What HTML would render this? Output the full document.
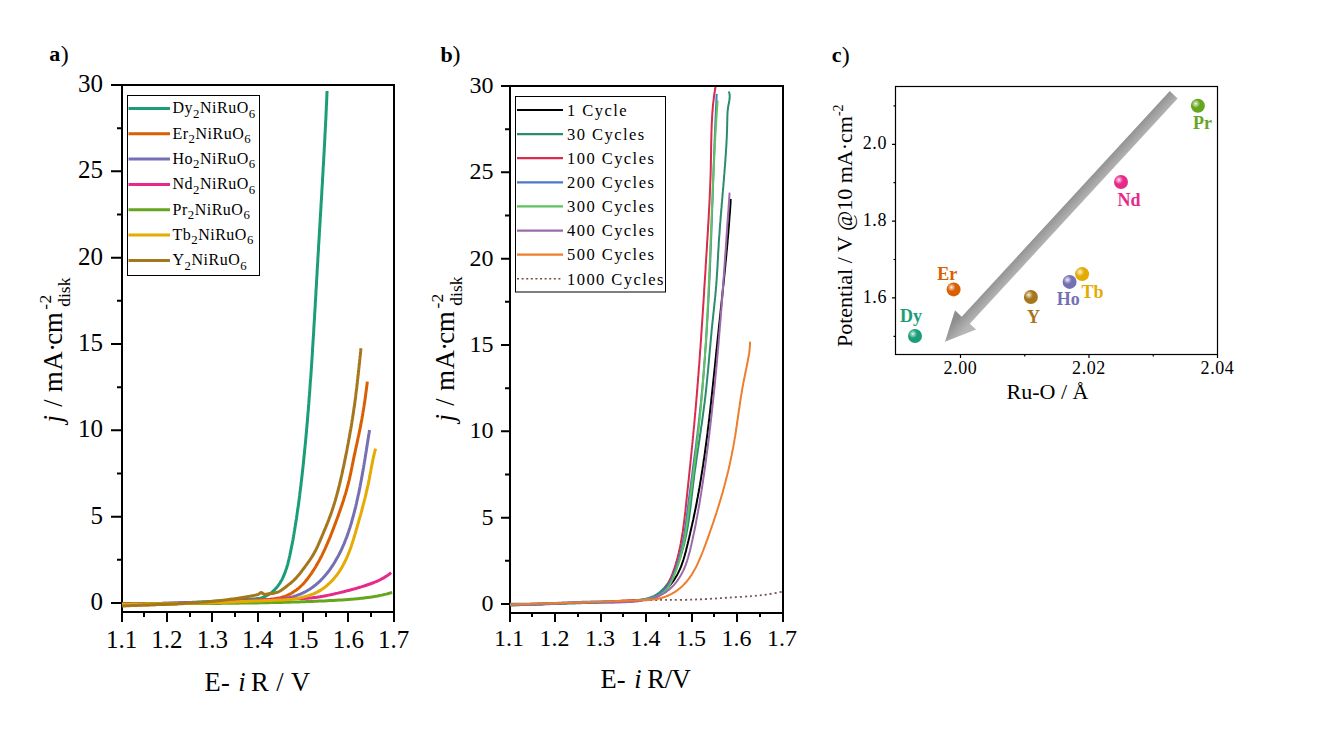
<!DOCTYPE html>
<html><head><meta charset="utf-8"><title>Figure</title>
<style>
html,body{margin:0;padding:0;background:#fff;}
body{width:1329px;height:735px;overflow:hidden;}
svg{display:block;}
text{font-family:"Liberation Serif", serif;}
</style></head>
<body>
<svg width="1329" height="735" viewBox="0 0 1329 735">
<rect width="1329" height="735" fill="#fff"/>
<text x="49.21" y="60.9" font-family="'Liberation Serif', serif" font-size="22" font-weight="bold" fill="#000">a</text>
<text x="60.74" y="61.6" font-family="'Liberation Serif', serif" font-size="24" fill="#000">)</text>
<text x="440.39" y="61.7" font-family="'Liberation Serif', serif" font-size="22" font-weight="bold" fill="#000">b</text>
<text x="452.54" y="62.3" font-family="'Liberation Serif', serif" font-size="24" fill="#000">)</text>
<text x="831.82" y="61.9" font-family="'Liberation Serif', serif" font-size="22" font-weight="bold" fill="#000">c</text>
<text x="841.74" y="62.5" font-family="'Liberation Serif', serif" font-size="24" fill="#000">)</text>
<rect x="122" y="85" width="272" height="527" fill="none" stroke="#000" stroke-width="2"/>
<path d="M111,603H121M111,516.66H121M111,430.33H121M111,344H121M111,257.66H121M111,171.32H121M111,84.99H121M117,559.83H121M117,473.5H121M117,387.16H121M117,300.83H121M117,214.49H121M117,128.16H121M122,613V622M167,613V622M212,613V622M258,613V622M303,613V622M348,613V622M394,613V622M144,613V617M190,613V617M235,613V617M280,613V617M326,613V617M371,613V617" stroke="#000" stroke-width="2" fill="none"/>
<text x="103" y="610" text-anchor="end" font-family="'Liberation Serif', serif" font-size="25">0</text>
<text x="103" y="523.66" text-anchor="end" font-family="'Liberation Serif', serif" font-size="25">5</text>
<text x="103" y="437.33" text-anchor="end" font-family="'Liberation Serif', serif" font-size="25">10</text>
<text x="103" y="351" text-anchor="end" font-family="'Liberation Serif', serif" font-size="25">15</text>
<text x="103" y="264.66" text-anchor="end" font-family="'Liberation Serif', serif" font-size="25">20</text>
<text x="103" y="178.32" text-anchor="end" font-family="'Liberation Serif', serif" font-size="25">25</text>
<text x="103" y="91.99" text-anchor="end" font-family="'Liberation Serif', serif" font-size="25">30</text>
<text x="121.6" y="648" text-anchor="middle" font-family="'Liberation Serif', serif" font-size="25">1.1</text>
<text x="166.93" y="648" text-anchor="middle" font-family="'Liberation Serif', serif" font-size="25">1.2</text>
<text x="212.26" y="648" text-anchor="middle" font-family="'Liberation Serif', serif" font-size="25">1.3</text>
<text x="257.59" y="648" text-anchor="middle" font-family="'Liberation Serif', serif" font-size="25">1.4</text>
<text x="302.92" y="648" text-anchor="middle" font-family="'Liberation Serif', serif" font-size="25">1.5</text>
<text x="348.25" y="648" text-anchor="middle" font-family="'Liberation Serif', serif" font-size="25">1.6</text>
<text x="393.58" y="648" text-anchor="middle" font-family="'Liberation Serif', serif" font-size="25">1.7</text>
<path d="M122.0,604.5 123.5,604.5 125.0,604.4 126.5,604.4 128.0,604.3 129.5,604.3 131.0,604.3 132.5,604.2 134.0,604.2 135.5,604.1 137.0,604.1 138.5,604.1 140.1,604.0 141.6,604.0 143.1,603.9 144.6,603.9 146.1,603.9 147.6,603.8 149.1,603.8 150.6,603.7 152.1,603.7 153.6,603.7 155.1,603.6 156.6,603.6 158.1,603.5 159.6,603.5 161.1,603.4 162.7,603.4 164.2,603.3 165.7,603.3 167.2,603.2 168.7,603.2 170.2,603.1 171.7,603.1 173.2,603.0 174.7,603.0 176.2,602.9 177.7,602.9 179.2,602.8 180.7,602.8 182.2,602.7 183.8,602.7 185.3,602.6 186.8,602.5 188.3,602.5 189.8,602.4 191.3,602.4 192.8,602.3 194.3,602.2 195.8,602.2 197.3,602.1 198.8,602.0 200.3,602.0 201.8,601.9 203.3,601.8 204.8,601.7 206.3,601.7 207.8,601.6 209.3,601.5 210.8,601.4 212.3,601.4 213.8,601.3 215.3,601.2 216.8,601.1 218.3,601.0 219.8,601.0 221.3,600.9 222.8,600.8 224.3,600.7 225.8,600.6 227.3,600.5 228.8,600.4 230.3,600.4 231.8,600.3 233.3,600.2 234.8,600.1 236.3,600.0 237.8,599.9 239.4,599.8 240.9,599.8 242.4,599.7 243.9,599.6 245.4,599.5 246.9,599.4 248.5,599.4 250.0,599.3 251.5,599.2 253.0,599.1 254.5,599.0 256.0,598.8 257.5,598.6 259.0,598.4 260.5,598.1 261.9,597.7 263.3,597.2 264.7,596.7 266.1,596.0 267.4,595.3 268.7,594.6 269.9,593.7 271.1,592.9 272.3,591.9 273.4,590.9 274.5,589.9 275.5,588.8 276.5,587.7 277.4,586.6 278.3,585.4 279.2,584.2 280.0,583.0 280.7,581.7 281.5,580.5 282.2,579.1 282.8,577.8 283.4,576.5 284.0,575.1 284.6,573.7 285.1,572.3 285.6,570.9 286.1,569.4 286.6,568.0 287.0,566.5 287.5,565.0 287.9,563.6 288.2,562.1 288.6,560.6 289.0,559.1 289.3,557.6 289.7,556.1 290.0,554.6 290.3,553.1 290.6,551.6 290.9,550.1 291.2,548.6 291.5,547.1 291.8,545.7 292.1,544.2 292.4,542.7 292.7,541.2 293.0,539.7 293.2,538.2 293.5,536.8 293.7,535.3 294.0,533.8 294.2,532.3 294.5,530.8 294.7,529.4 295.0,527.9 295.2,526.4 295.4,524.9 295.7,523.4 295.9,522.0 296.1,520.5 296.4,519.0 296.6,517.5 296.8,516.0 297.0,514.6 297.2,513.1 297.4,511.6 297.6,510.1 297.9,508.6 298.1,507.1 298.3,505.7 298.5,504.2 298.7,502.7 298.9,501.2 299.1,499.7 299.3,498.2 299.5,496.7 299.7,495.2 299.8,493.7 300.0,492.2 300.2,490.8 300.4,489.3 300.6,487.8 300.8,486.3 301.0,484.8 301.1,483.3 301.3,481.8 301.5,480.3 301.7,478.8 301.8,477.3 302.0,475.8 302.2,474.3 302.3,472.8 302.5,471.3 302.7,469.8 302.8,468.3 303.0,466.8 303.2,465.3 303.3,463.8 303.5,462.3 303.6,460.8 303.8,459.3 303.9,457.8 304.1,456.3 304.2,454.8 304.4,453.3 304.5,451.8 304.7,450.3 304.8,448.8 305.0,447.3 305.1,445.8 305.3,444.3 305.4,442.8 305.6,441.3 305.7,439.8 305.8,438.3 306.0,436.8 306.1,435.3 306.2,433.8 306.4,432.3 306.5,430.8 306.6,429.3 306.8,427.8 306.9,426.3 307.0,424.8 307.2,423.3 307.3,421.8 307.4,420.3 307.5,418.8 307.7,417.3 307.8,415.8 307.9,414.3 308.0,412.8 308.2,411.3 308.3,409.8 308.4,408.3 308.5,406.8 308.6,405.2 308.8,403.7 308.9,402.2 309.0,400.7 309.1,399.2 309.2,397.7 309.3,396.2 309.5,394.7 309.6,393.2 309.7,391.7 309.8,390.2 309.9,388.7 310.0,387.2 310.1,385.7 310.2,384.2 310.3,382.7 310.4,381.2 310.5,379.7 310.7,378.2 310.8,376.7 310.9,375.2 311.0,373.7 311.1,372.2 311.2,370.7 311.3,369.2 311.4,367.7 311.5,366.2 311.6,364.7 311.7,363.2 311.8,361.7 311.9,360.2 312.0,358.7 312.1,357.2 312.2,355.7 312.3,354.2 312.4,352.7 312.5,351.2 312.5,349.7 312.6,348.2 312.7,346.6 312.8,345.1 312.9,343.6 313.0,342.1 313.1,340.6 313.2,339.1 313.3,337.6 313.4,336.1 313.5,334.6 313.6,333.1 313.7,331.6 313.8,330.1 313.8,328.6 313.9,327.1 314.0,325.6 314.1,324.1 314.2,322.6 314.3,321.1 314.4,319.6 314.5,318.1 314.6,316.6 314.6,315.1 314.7,313.6 314.8,312.1 314.9,310.6 315.0,309.1 315.1,307.6 315.2,306.1 315.3,304.6 315.3,303.1 315.4,301.6 315.5,300.1 315.6,298.6 315.7,297.0 315.8,295.5 315.9,294.0 315.9,292.5 316.0,291.0 316.1,289.5 316.2,288.0 316.3,286.5 316.4,285.0 316.5,283.5 316.5,282.0 316.6,280.5 316.7,279.0 316.8,277.5 316.9,276.0 317.0,274.5 317.1,273.0 317.1,271.5 317.2,270.0 317.3,268.5 317.4,267.0 317.5,265.5 317.6,264.0 317.7,262.5 317.8,261.0 317.8,259.5 317.9,258.0 318.0,256.5 318.1,254.9 318.2,253.4 318.3,251.9 318.4,250.4 318.5,248.9 318.5,247.4 318.6,245.9 318.7,244.4 318.8,242.9 318.9,241.4 319.0,239.9 319.1,238.4 319.2,236.9 319.3,235.4 319.3,233.9 319.4,232.4 319.5,230.9 319.6,229.4 319.7,227.9 319.8,226.4 319.9,224.9 320.0,223.4 320.1,221.9 320.2,220.4 320.2,218.9 320.3,217.4 320.4,215.8 320.5,214.3 320.6,212.8 320.7,211.3 320.8,209.8 320.9,208.3 321.0,206.8 321.0,205.3 321.1,203.8 321.2,202.3 321.3,200.8 321.4,199.3 321.5,197.8 321.6,196.3 321.7,194.8 321.8,193.3 321.8,191.8 321.9,190.3 322.0,188.8 322.1,187.3 322.2,185.8 322.3,184.3 322.4,182.8 322.5,181.3 322.5,179.7 322.6,178.2 322.7,176.7 322.8,175.2 322.9,173.7 323.0,172.2 323.1,170.7 323.1,169.2 323.2,167.7 323.3,166.2 323.4,164.7 323.5,163.2 323.6,161.7 323.7,160.2 323.7,158.7 323.8,157.2 323.9,155.7 324.0,154.2 324.1,152.7 324.2,151.2 324.2,149.7 324.3,148.2 324.4,146.7 324.5,145.2 324.6,143.6 324.6,142.1 324.7,140.6 324.8,139.1 324.9,137.6 324.9,136.1 325.0,134.6 325.1,133.1 325.2,131.6 325.3,130.1 325.3,128.6 325.4,127.1 325.5,125.6 325.6,124.1 325.6,122.6 325.7,121.1 325.8,119.6 325.9,118.1 325.9,116.6 326.0,115.1 326.1,113.6 326.1,112.1 326.2,110.6 326.3,109.1 326.3,107.5 326.4,106.0 326.5,104.5 326.6,103.0 326.6,101.5 326.7,100.0 326.8,98.5 326.8,97.0 326.9,95.5 326.9,94.0 327.0,92.5 327.1,91.0" stroke="#1b9e77" stroke-width="3" fill="none" stroke-linejoin="round" stroke-linecap="butt"/>
<path d="M122.0,605.4 123.5,605.4 125.0,605.4 126.5,605.3 128.0,605.3 129.6,605.3 131.1,605.3 132.6,605.2 134.1,605.2 135.6,605.2 137.1,605.1 138.6,605.1 140.1,605.1 141.6,605.0 143.1,605.0 144.7,605.0 146.2,604.9 147.7,604.9 149.2,604.8 150.7,604.8 152.2,604.8 153.7,604.7 155.2,604.7 156.7,604.6 158.2,604.6 159.8,604.5 161.3,604.5 162.8,604.4 164.3,604.4 165.8,604.3 167.3,604.3 168.8,604.2 170.3,604.1 171.8,604.1 173.4,604.0 174.9,604.0 176.4,603.9 177.9,603.8 179.4,603.8 180.9,603.7 182.4,603.7 183.9,603.6 185.4,603.5 186.9,603.5 188.5,603.4 190.0,603.3 191.5,603.3 193.0,603.2 194.5,603.1 196.0,603.1 197.5,603.0 199.0,602.9 200.5,602.9 202.0,602.8 203.5,602.7 205.1,602.7 206.6,602.6 208.1,602.5 209.6,602.4 211.1,602.4 212.6,602.3 214.1,602.2 215.6,602.2 217.1,602.1 218.6,602.0 220.1,601.9 221.6,601.9 223.2,601.8 224.7,601.7 226.2,601.7 227.7,601.6 229.2,601.5 230.7,601.4 232.2,601.4 233.7,601.3 235.2,601.2 236.7,601.1 238.2,601.1 239.7,601.0 241.2,600.9 242.7,600.9 244.2,600.8 245.7,600.7 247.3,600.6 248.8,600.6 250.3,600.5 251.8,600.4 253.3,600.3 254.8,600.2 256.3,600.2 257.9,600.1 259.4,600.0 260.9,599.9 262.4,599.8 264.0,599.7 265.5,599.6 267.0,599.5 268.5,599.4 270.1,599.3 271.6,599.1 273.1,598.9 274.6,598.7 276.1,598.5 277.5,598.2 279.0,597.9 280.5,597.6 281.9,597.2 283.3,596.8 284.7,596.3 286.1,595.8 287.5,595.2 288.8,594.6 290.2,593.9 291.5,593.2 292.8,592.4 294.0,591.6 295.2,590.8 296.5,589.9 297.6,589.0 298.8,588.1 299.9,587.1 301.0,586.0 302.1,585.0 303.2,583.9 304.2,582.8 305.2,581.6 306.1,580.5 307.1,579.3 308.0,578.1 308.9,576.8 309.8,575.6 310.7,574.4 311.6,573.1 312.4,571.8 313.2,570.6 314.1,569.3 314.9,568.0 315.7,566.7 316.4,565.4 317.2,564.1 317.9,562.8 318.7,561.5 319.4,560.2 320.1,558.8 320.8,557.5 321.5,556.2 322.2,554.8 322.8,553.4 323.5,552.1 324.1,550.7 324.8,549.4 325.4,548.0 326.0,546.6 326.6,545.2 327.2,543.8 327.8,542.5 328.4,541.1 329.0,539.7 329.6,538.3 330.2,536.9 330.7,535.5 331.3,534.1 331.8,532.6 332.4,531.2 332.9,529.8 333.5,528.4 334.0,527.0 334.5,525.6 335.1,524.2 335.6,522.8 336.1,521.3 336.6,519.9 337.2,518.5 337.7,517.1 338.2,515.7 338.7,514.2 339.2,512.8 339.7,511.4 340.2,510.0 340.7,508.5 341.2,507.1 341.7,505.7 342.2,504.3 342.6,502.8 343.1,501.4 343.6,500.0 344.0,498.5 344.5,497.1 344.9,495.6 345.4,494.2 345.8,492.8 346.2,491.3 346.6,489.9 347.0,488.4 347.4,486.9 347.8,485.5 348.2,484.0 348.5,482.6 348.9,481.1 349.3,479.6 349.6,478.2 349.9,476.7 350.3,475.2 350.6,473.7 350.9,472.3 351.2,470.8 351.5,469.3 351.8,467.8 352.1,466.3 352.4,464.8 352.7,463.4 353.0,461.9 353.3,460.4 353.6,458.9 353.9,457.4 354.2,455.9 354.5,454.5 354.9,453.0 355.2,451.5 355.5,450.0 355.8,448.5 356.1,447.1 356.4,445.6 356.8,444.1 357.1,442.6 357.4,441.2 357.7,439.7 358.0,438.2 358.3,436.7 358.7,435.3 359.0,433.8 359.3,432.3 359.6,430.8 359.9,429.3 360.2,427.9 360.5,426.4 360.8,424.9 361.0,423.4 361.3,421.9 361.6,420.5 361.9,419.0 362.1,417.5 362.4,416.0 362.6,414.5 362.9,413.0 363.1,411.5 363.4,410.0 363.6,408.5 363.9,407.0 364.1,405.6 364.3,404.1 364.6,402.6 364.8,401.1 365.0,399.6 365.2,398.1 365.4,396.6 365.6,395.1 365.8,393.6 366.0,392.1 366.2,390.6 366.4,389.1 366.6,387.6 366.8,386.1 367.0,384.6 367.2,383.1 367.3,381.6" stroke="#d95f02" stroke-width="3" fill="none" stroke-linejoin="round" stroke-linecap="butt"/>
<path d="M122.0,603.9 123.5,603.9 125.0,603.9 126.5,603.9 128.0,603.9 129.5,603.9 131.0,603.9 132.5,603.9 134.1,603.9 135.6,603.9 137.1,603.9 138.6,603.8 140.1,603.8 141.6,603.8 143.1,603.8 144.6,603.8 146.1,603.8 147.6,603.8 149.1,603.8 150.6,603.7 152.1,603.7 153.6,603.7 155.1,603.7 156.6,603.7 158.2,603.6 159.7,603.6 161.2,603.6 162.7,603.6 164.2,603.5 165.7,603.5 167.2,603.5 168.7,603.5 170.2,603.4 171.7,603.4 173.2,603.4 174.7,603.3 176.2,603.3 177.7,603.3 179.2,603.3 180.7,603.2 182.2,603.2 183.7,603.2 185.3,603.1 186.8,603.1 188.3,603.1 189.8,603.0 191.3,603.0 192.8,603.0 194.3,602.9 195.8,602.9 197.3,602.9 198.8,602.8 200.3,602.8 201.8,602.8 203.3,602.7 204.8,602.7 206.3,602.7 207.8,602.6 209.3,602.6 210.8,602.6 212.4,602.5 213.9,602.5 215.4,602.5 216.9,602.4 218.4,602.4 219.9,602.4 221.4,602.3 222.9,602.3 224.4,602.3 225.9,602.2 227.4,602.2 228.9,602.2 230.4,602.2 231.9,602.1 233.4,602.1 235.0,602.1 236.5,602.0 238.0,602.0 239.5,602.0 241.0,602.0 242.5,601.9 244.0,601.9 245.5,601.8 247.0,601.8 248.5,601.8 250.0,601.7 251.5,601.6 253.0,601.6 254.5,601.5 256.0,601.5 257.5,601.4 259.0,601.3 260.5,601.2 262.1,601.1 263.6,601.0 265.1,600.9 266.6,600.8 268.1,600.6 269.6,600.5 271.1,600.4 272.5,600.2 274.0,600.0 275.5,599.9 277.0,599.7 278.5,599.5 280.0,599.3 281.5,599.0 283.0,598.8 284.5,598.6 286.0,598.3 287.5,598.0 288.9,597.7 290.4,597.3 291.9,597.0 293.3,596.6 294.7,596.1 296.2,595.7 297.6,595.2 299.0,594.6 300.4,594.1 301.8,593.5 303.1,592.9 304.5,592.2 305.8,591.5 307.1,590.8 308.4,590.0 309.7,589.3 310.9,588.4 312.1,587.6 313.3,586.7 314.5,585.8 315.7,584.9 316.8,583.9 318.0,582.9 319.1,581.9 320.2,580.9 321.2,579.8 322.3,578.7 323.3,577.6 324.3,576.5 325.3,575.3 326.3,574.2 327.2,573.0 328.2,571.8 329.1,570.6 330.0,569.4 330.8,568.1 331.7,566.9 332.5,565.6 333.4,564.3 334.2,563.0 335.0,561.7 335.7,560.4 336.5,559.1 337.2,557.8 338.0,556.5 338.7,555.1 339.4,553.8 340.0,552.5 340.7,551.1 341.4,549.8 342.0,548.4 342.6,547.0 343.2,545.6 343.8,544.3 344.4,542.9 344.9,541.5 345.5,540.1 346.0,538.7 346.6,537.3 347.1,535.9 347.6,534.5 348.1,533.1 348.6,531.6 349.0,530.2 349.5,528.8 350.0,527.4 350.4,525.9 350.9,524.5 351.3,523.1 351.7,521.6 352.1,520.2 352.5,518.7 352.9,517.3 353.3,515.8 353.7,514.4 354.1,512.9 354.5,511.5 354.8,510.0 355.2,508.5 355.6,507.1 355.9,505.6 356.3,504.1 356.6,502.7 356.9,501.2 357.3,499.7 357.6,498.3 357.9,496.8 358.2,495.3 358.6,493.9 358.9,492.4 359.2,490.9 359.5,489.4 359.8,487.9 360.1,486.5 360.3,485.0 360.6,483.5 360.9,482.0 361.2,480.5 361.5,479.1 361.7,477.6 362.0,476.1 362.3,474.6 362.5,473.1 362.8,471.6 363.1,470.1 363.3,468.7 363.6,467.2 363.8,465.7 364.1,464.2 364.3,462.7 364.6,461.2 364.8,459.7 365.1,458.2 365.3,456.8 365.5,455.3 365.8,453.8 366.0,452.3 366.3,450.8 366.5,449.3 366.7,447.8 367.0,446.4 367.2,444.9 367.4,443.4 367.7,441.9 367.9,440.4 368.1,438.9 368.4,437.4 368.6,436.0 368.8,434.5 369.1,433.0 369.3,431.5 369.5,430.0" stroke="#7570b3" stroke-width="3" fill="none" stroke-linejoin="round" stroke-linecap="butt"/>
<path d="M122.0,603.4 123.5,603.4 125.0,603.4 126.5,603.4 128.1,603.4 129.6,603.4 131.1,603.4 132.6,603.4 134.1,603.4 135.6,603.4 137.1,603.4 138.7,603.4 140.2,603.4 141.7,603.4 143.2,603.4 144.7,603.4 146.2,603.4 147.7,603.4 149.2,603.4 150.8,603.4 152.3,603.4 153.8,603.4 155.3,603.4 156.8,603.4 158.3,603.4 159.8,603.4 161.4,603.4 162.9,603.3 164.4,603.3 165.9,603.3 167.4,603.3 168.9,603.3 170.4,603.3 172.0,603.3 173.5,603.2 175.0,603.2 176.5,603.2 178.0,603.2 179.5,603.2 181.0,603.1 182.6,603.1 184.1,603.1 185.6,603.1 187.1,603.1 188.6,603.0 190.1,603.0 191.6,603.0 193.2,602.9 194.7,602.9 196.2,602.9 197.7,602.8 199.2,602.8 200.7,602.8 202.2,602.7 203.7,602.7 205.3,602.7 206.8,602.6 208.3,602.6 209.8,602.5 211.3,602.5 212.8,602.4 214.3,602.4 215.9,602.3 217.4,602.3 218.9,602.2 220.4,602.2 221.9,602.1 223.4,602.1 224.9,602.0 226.4,602.0 228.0,601.9 229.5,601.8 231.0,601.8 232.5,601.7 234.0,601.6 235.5,601.6 237.0,601.5 238.5,601.4 240.1,601.4 241.6,601.3 243.1,601.2 244.6,601.1 246.1,601.1 247.6,601.0 249.1,600.9 250.6,600.8 252.1,600.7 253.7,600.6 255.2,600.6 256.7,600.5 258.2,600.4 259.7,600.3 261.2,600.2 262.7,600.1 264.2,600.0 265.7,599.9 267.2,599.8 268.8,599.7 270.3,599.6 271.8,599.5 273.3,599.4 274.8,599.2 276.3,599.1 277.8,599.0 279.3,599.0 280.8,598.9 282.3,598.8 283.8,598.7 285.4,598.7 286.9,598.7 288.4,598.6 289.9,598.6 291.4,598.6 292.9,598.6 294.4,598.6 296.0,598.6 297.5,598.6 299.0,598.6 300.5,598.5 302.0,598.5 303.5,598.5 305.0,598.4 306.5,598.3 308.0,598.2 309.5,598.1 311.1,598.0 312.6,597.8 314.1,597.6 315.5,597.5 317.0,597.3 318.5,597.0 320.0,596.8 321.5,596.5 323.0,596.3 324.5,596.0 326.0,595.7 327.5,595.4 329.0,595.1 330.4,594.8 331.9,594.5 333.4,594.1 334.9,593.8 336.4,593.4 337.8,593.1 339.3,592.7 340.8,592.4 342.3,592.0 343.7,591.7 345.2,591.3 346.7,590.9 348.1,590.5 349.6,590.2 351.1,589.8 352.5,589.4 354.0,589.0 355.4,588.6 356.9,588.2 358.3,587.7 359.8,587.3 361.2,586.9 362.7,586.4 364.1,586.0 365.6,585.5 367.0,585.0 368.4,584.5 369.9,584.0 371.3,583.5 372.7,583.0 374.1,582.4 375.5,581.9 376.9,581.3 378.3,580.7 379.7,580.0 381.0,579.3 382.3,578.6 383.7,577.9 384.9,577.1 386.2,576.3 387.5,575.5 388.7,574.6 389.9,573.7 391.1,572.7" stroke="#e7298a" stroke-width="3" fill="none" stroke-linejoin="round" stroke-linecap="butt"/>
<path d="M122.0,604.0 123.5,604.0 125.0,604.0 126.5,604.0 128.1,604.0 129.6,604.0 131.1,603.9 132.6,603.9 134.1,603.9 135.6,603.9 137.1,603.9 138.6,603.9 140.2,603.9 141.7,603.9 143.2,603.9 144.7,603.8 146.2,603.8 147.7,603.8 149.2,603.8 150.8,603.8 152.3,603.8 153.8,603.8 155.3,603.8 156.8,603.8 158.3,603.8 159.8,603.7 161.4,603.7 162.9,603.7 164.4,603.7 165.9,603.7 167.4,603.7 168.9,603.7 170.4,603.7 172.0,603.7 173.5,603.7 175.0,603.7 176.5,603.7 178.0,603.6 179.5,603.6 181.0,603.6 182.5,603.6 184.1,603.6 185.6,603.6 187.1,603.6 188.6,603.6 190.1,603.6 191.6,603.6 193.1,603.6 194.7,603.5 196.2,603.5 197.7,603.5 199.2,603.5 200.7,603.5 202.2,603.5 203.7,603.5 205.2,603.5 206.8,603.5 208.3,603.5 209.8,603.4 211.3,603.4 212.8,603.4 214.3,603.4 215.8,603.4 217.4,603.4 218.9,603.4 220.4,603.4 221.9,603.3 223.4,603.3 224.9,603.3 226.4,603.3 227.9,603.3 229.5,603.3 231.0,603.2 232.5,603.2 234.0,603.2 235.5,603.2 237.0,603.2 238.5,603.2 240.1,603.1 241.6,603.1 243.1,603.1 244.6,603.1 246.1,603.1 247.6,603.0 249.1,603.0 250.6,603.0 252.2,603.0 253.7,602.9 255.2,602.9 256.7,602.9 258.2,602.9 259.7,602.8 261.2,602.8 262.8,602.8 264.3,602.8 265.8,602.7 267.3,602.7 268.8,602.7 270.3,602.6 271.8,602.6 273.3,602.6 274.9,602.5 276.4,602.5 277.9,602.5 279.4,602.4 280.9,602.4 282.4,602.4 283.9,602.3 285.5,602.3 287.0,602.2 288.5,602.2 290.0,602.2 291.5,602.1 293.0,602.1 294.5,602.0 296.0,602.0 297.6,601.9 299.1,601.9 300.6,601.8 302.1,601.8 303.6,601.7 305.1,601.7 306.6,601.6 308.2,601.6 309.7,601.5 311.2,601.5 312.7,601.4 314.2,601.3 315.7,601.3 317.2,601.2 318.7,601.1 320.3,601.1 321.8,601.0 323.3,600.9 324.8,600.9 326.3,600.8 327.8,600.7 329.3,600.6 330.8,600.6 332.3,600.5 333.9,600.4 335.4,600.3 336.9,600.2 338.4,600.1 339.9,600.0 341.4,599.9 342.9,599.9 344.4,599.8 345.9,599.7 347.4,599.5 349.0,599.4 350.5,599.3 352.0,599.2 353.5,599.1 355.0,598.9 356.5,598.8 358.0,598.7 359.5,598.5 361.0,598.3 362.5,598.2 364.0,598.0 365.5,597.8 367.0,597.6 368.5,597.4 370.0,597.2 371.5,597.0 373.0,596.7 374.5,596.5 376.0,596.2 377.4,596.0 378.9,595.7 380.4,595.4 381.9,595.1 383.4,594.7 384.8,594.4 386.3,594.1 387.8,593.7 389.3,593.3 390.7,592.9 392.2,592.5" stroke="#66a61e" stroke-width="3" fill="none" stroke-linejoin="round" stroke-linecap="butt"/>
<path d="M122.0,604.4 123.5,604.4 125.0,604.4 126.5,604.4 128.0,604.4 129.5,604.4 131.0,604.3 132.5,604.3 134.1,604.3 135.6,604.3 137.1,604.3 138.6,604.2 140.1,604.2 141.6,604.2 143.1,604.2 144.6,604.2 146.1,604.1 147.6,604.1 149.1,604.1 150.6,604.1 152.1,604.0 153.6,604.0 155.2,604.0 156.7,604.0 158.2,603.9 159.7,603.9 161.2,603.9 162.7,603.9 164.2,603.8 165.7,603.8 167.2,603.8 168.7,603.8 170.2,603.7 171.7,603.7 173.2,603.7 174.7,603.6 176.2,603.6 177.8,603.6 179.3,603.5 180.8,603.5 182.3,603.5 183.8,603.4 185.3,603.4 186.8,603.4 188.3,603.3 189.8,603.3 191.3,603.3 192.8,603.2 194.3,603.2 195.8,603.2 197.3,603.1 198.8,603.1 200.3,603.0 201.8,603.0 203.4,603.0 204.9,602.9 206.4,602.9 207.9,602.8 209.4,602.8 210.9,602.7 212.4,602.7 213.9,602.6 215.4,602.6 216.9,602.5 218.4,602.5 219.9,602.4 221.4,602.4 222.9,602.3 224.4,602.3 225.9,602.2 227.5,602.2 229.0,602.1 230.5,602.1 232.0,602.0 233.5,601.9 235.0,601.9 236.5,601.8 238.0,601.8 239.5,601.7 241.0,601.6 242.5,601.6 244.0,601.5 245.5,601.4 247.0,601.4 248.5,601.3 250.1,601.3 251.6,601.2 253.1,601.1 254.6,601.1 256.1,601.0 257.6,600.9 259.1,600.9 260.6,600.8 262.1,600.7 263.6,600.7 265.1,600.6 266.6,600.5 268.1,600.5 269.6,600.4 271.1,600.4 272.6,600.3 274.1,600.2 275.6,600.2 277.1,600.1 278.6,600.1 280.2,600.0 281.7,600.0 283.2,599.9 284.7,599.8 286.2,599.7 287.7,599.6 289.1,599.5 290.6,599.4 292.1,599.2 293.6,599.0 295.1,598.8 296.6,598.5 298.1,598.3 299.5,598.0 301.0,597.6 302.5,597.3 304.0,596.9 305.4,596.5 306.9,596.1 308.4,595.7 309.8,595.2 311.3,594.7 312.7,594.2 314.1,593.6 315.5,593.0 316.8,592.3 318.1,591.6 319.4,590.9 320.7,590.1 322.0,589.3 323.2,588.4 324.4,587.6 325.6,586.6 326.8,585.7 327.9,584.7 329.0,583.7 330.1,582.7 331.1,581.6 332.2,580.5 333.2,579.4 334.2,578.3 335.1,577.1 336.1,576.0 337.0,574.8 337.9,573.5 338.7,572.3 339.6,571.1 340.4,569.8 341.2,568.5 342.0,567.2 342.7,565.9 343.4,564.6 344.1,563.3 344.8,562.0 345.4,560.6 346.1,559.2 346.7,557.9 347.3,556.5 347.9,555.1 348.4,553.7 349.0,552.3 349.5,550.9 350.1,549.5 350.6,548.1 351.1,546.7 351.6,545.2 352.0,543.8 352.5,542.3 353.0,540.9 353.4,539.4 353.9,538.0 354.3,536.5 354.7,535.1 355.2,533.6 355.6,532.2 356.0,530.7 356.4,529.3 356.9,527.8 357.3,526.4 357.7,524.9 358.1,523.5 358.5,522.0 358.9,520.6 359.3,519.1 359.7,517.7 360.2,516.2 360.6,514.8 361.0,513.3 361.4,511.9 361.8,510.4 362.1,509.0 362.5,507.5 362.9,506.1 363.3,504.6 363.7,503.2 364.1,501.7 364.4,500.3 364.8,498.8 365.2,497.3 365.5,495.9 365.9,494.4 366.2,493.0 366.5,491.5 366.9,490.0 367.2,488.6 367.5,487.1 367.9,485.6 368.2,484.2 368.5,482.7 368.8,481.2 369.1,479.7 369.4,478.2 369.6,476.8 369.9,475.3 370.2,473.8 370.5,472.3 370.8,470.8 371.0,469.3 371.3,467.8 371.6,466.3 371.9,464.9 372.2,463.4 372.5,461.9 372.8,460.4 373.1,458.9 373.4,457.5 373.7,456.0 374.1,454.5 374.4,453.1 374.8,451.6 375.2,450.2 375.6,448.7" stroke="#e6ab02" stroke-width="3" fill="none" stroke-linejoin="round" stroke-linecap="butt"/>
<path d="M122.0,606.1 123.5,606.0 125.0,605.9 126.5,605.8 128.0,605.8 129.5,605.7 131.0,605.6 132.5,605.6 134.0,605.5 135.6,605.4 137.1,605.4 138.6,605.3 140.1,605.3 141.6,605.2 143.1,605.1 144.6,605.1 146.1,605.0 147.6,605.0 149.1,604.9 150.6,604.8 152.1,604.8 153.6,604.7 155.1,604.7 156.6,604.6 158.2,604.6 159.7,604.5 161.2,604.4 162.7,604.4 164.2,604.3 165.7,604.2 167.2,604.2 168.7,604.1 170.2,604.1 171.7,604.0 173.2,603.9 174.7,603.8 176.2,603.8 177.7,603.7 179.3,603.6 180.8,603.5 182.3,603.5 183.8,603.4 185.3,603.3 186.8,603.2 188.3,603.1 189.8,603.0 191.3,602.9 192.8,602.9 194.3,602.8 195.8,602.7 197.3,602.5 198.8,602.4 200.3,602.3 201.8,602.2 203.3,602.1 204.8,602.0 206.3,601.9 207.8,601.7 209.3,601.6 210.8,601.5 212.3,601.3 213.8,601.2 215.3,601.0 216.8,600.9 218.3,600.7 219.8,600.6 221.3,600.4 222.8,600.2 224.3,600.1 225.8,599.9 227.3,599.7 228.8,599.5 230.3,599.3 231.8,599.1 233.3,598.9 234.8,598.7 236.3,598.5 237.8,598.3 239.3,598.0 240.8,597.8 242.2,597.6 243.7,597.3 245.2,597.1 246.7,596.8 248.2,596.5 249.7,596.3 251.2,596.0 252.7,595.7 254.1,595.4 255.6,595.1 257.1,594.8 258.4,594.3 259.7,593.5 260.7,592.6 261.9,592.8 263.1,593.7 264.5,594.4 266.0,594.3 267.5,594.0 269.0,593.8 270.5,593.6 272.0,593.4 273.6,593.2 275.0,592.9 276.5,592.5 277.9,592.1 279.2,591.5 280.5,590.7 281.8,589.9 283.0,589.1 284.2,588.1 285.4,587.2 286.6,586.3 287.8,585.3 289.0,584.4 290.2,583.5 291.4,582.5 292.5,581.5 293.6,580.5 294.7,579.4 295.7,578.4 296.7,577.3 297.7,576.1 298.7,575.0 299.7,573.8 300.6,572.6 301.5,571.5 302.4,570.2 303.3,569.0 304.2,567.8 305.1,566.6 306.0,565.4 306.9,564.1 307.8,562.9 308.7,561.7 309.5,560.5 310.4,559.2 311.2,558.0 312.0,556.7 312.8,555.4 313.6,554.1 314.3,552.8 315.0,551.5 315.7,550.2 316.4,548.8 317.0,547.5 317.7,546.1 318.3,544.7 318.9,543.3 319.5,542.0 320.1,540.6 320.7,539.2 321.3,537.8 321.9,536.4 322.5,535.0 323.1,533.6 323.7,532.2 324.2,530.8 324.8,529.4 325.4,528.1 326.0,526.7 326.5,525.3 327.1,523.9 327.7,522.5 328.2,521.1 328.8,519.6 329.3,518.2 329.8,516.8 330.4,515.4 330.9,514.0 331.4,512.6 331.9,511.2 332.3,509.7 332.8,508.3 333.3,506.9 333.7,505.4 334.2,504.0 334.6,502.6 335.1,501.1 335.5,499.7 335.9,498.2 336.3,496.8 336.7,495.3 337.1,493.9 337.5,492.4 337.9,491.0 338.3,489.5 338.6,488.0 339.0,486.6 339.4,485.1 339.7,483.6 340.1,482.2 340.4,480.7 340.8,479.2 341.1,477.8 341.4,476.3 341.8,474.8 342.1,473.4 342.4,471.9 342.7,470.4 343.0,468.9 343.4,467.5 343.7,466.0 344.0,464.5 344.3,463.0 344.6,461.5 344.9,460.1 345.2,458.6 345.5,457.1 345.8,455.6 346.1,454.1 346.4,452.7 346.7,451.2 347.0,449.7 347.2,448.2 347.5,446.7 347.8,445.3 348.1,443.8 348.4,442.3 348.6,440.8 348.9,439.3 349.2,437.9 349.5,436.4 349.7,434.9 350.0,433.4 350.2,431.9 350.5,430.4 350.8,429.0 351.0,427.5 351.3,426.0 351.5,424.5 351.8,423.0 352.0,421.5 352.2,420.0 352.5,418.5 352.7,417.1 352.9,415.6 353.2,414.1 353.4,412.6 353.6,411.1 353.8,409.6 354.0,408.1 354.3,406.6 354.5,405.1 354.7,403.6 354.9,402.1 355.1,400.6 355.3,399.2 355.5,397.7 355.7,396.2 355.8,394.7 356.0,393.2 356.2,391.7 356.4,390.2 356.6,388.7 356.8,387.2 356.9,385.7 357.1,384.2 357.3,382.7 357.4,381.2 357.6,379.7 357.8,378.2 357.9,376.7 358.1,375.2 358.3,373.7 358.4,372.2 358.6,370.7 358.8,369.2 358.9,367.7 359.1,366.2 359.2,364.7 359.4,363.2 359.6,361.7 359.7,360.2 359.9,358.7 360.0,357.2 360.2,355.7 360.4,354.2 360.5,352.7 360.7,351.2 360.8,349.7 361.0,348.2" stroke="#a6761d" stroke-width="3" fill="none" stroke-linejoin="round" stroke-linecap="butt"/>
<rect x="127.5" y="95.5" width="132" height="180" fill="#fff" stroke="#000" stroke-width="1"/>
<path d="M128.5,108.4H170" stroke="#1b9e77" stroke-width="3"/>
<text x="172.5" y="113.2" font-family="'Liberation Serif', serif" font-size="16" letter-spacing="0.5">Dy<tspan font-size="12.8" dy="4.6">2</tspan><tspan dy="-4.6">NiRuO</tspan><tspan font-size="12.8" dy="4.6">6</tspan></text>
<path d="M128.5,133.73H170" stroke="#d95f02" stroke-width="3"/>
<text x="172.5" y="138.53" font-family="'Liberation Serif', serif" font-size="16" letter-spacing="0.5">Er<tspan font-size="12.8" dy="4.6">2</tspan><tspan dy="-4.6">NiRuO</tspan><tspan font-size="12.8" dy="4.6">6</tspan></text>
<path d="M128.5,159.06H170" stroke="#7570b3" stroke-width="3"/>
<text x="172.5" y="163.86" font-family="'Liberation Serif', serif" font-size="16" letter-spacing="0.5">Ho<tspan font-size="12.8" dy="4.6">2</tspan><tspan dy="-4.6">NiRuO</tspan><tspan font-size="12.8" dy="4.6">6</tspan></text>
<path d="M128.5,184.39H170" stroke="#e7298a" stroke-width="3"/>
<text x="172.5" y="189.19" font-family="'Liberation Serif', serif" font-size="16" letter-spacing="0.5">Nd<tspan font-size="12.8" dy="4.6">2</tspan><tspan dy="-4.6">NiRuO</tspan><tspan font-size="12.8" dy="4.6">6</tspan></text>
<path d="M128.5,209.72H170" stroke="#66a61e" stroke-width="3"/>
<text x="172.5" y="214.52" font-family="'Liberation Serif', serif" font-size="16" letter-spacing="0.5">Pr<tspan font-size="12.8" dy="4.6">2</tspan><tspan dy="-4.6">NiRuO</tspan><tspan font-size="12.8" dy="4.6">6</tspan></text>
<path d="M128.5,235.05H170" stroke="#e6ab02" stroke-width="3"/>
<text x="172.5" y="239.85" font-family="'Liberation Serif', serif" font-size="16" letter-spacing="0.5">Tb<tspan font-size="12.8" dy="4.6">2</tspan><tspan dy="-4.6">NiRuO</tspan><tspan font-size="12.8" dy="4.6">6</tspan></text>
<path d="M128.5,260.38H170" stroke="#a6761d" stroke-width="3"/>
<text x="172.5" y="265.18" font-family="'Liberation Serif', serif" font-size="16" letter-spacing="0.5">Y<tspan font-size="12.8" dy="4.6">2</tspan><tspan dy="-4.6">NiRuO</tspan><tspan font-size="12.8" dy="4.6">6</tspan></text>
<text x="204.58" y="691" font-family="'Liberation Serif', serif" font-size="26.5" fill="#000">E</text>
<text x="221.12" y="691" font-family="'Liberation Serif', serif" font-size="26.5" fill="#000">-</text>
<text x="238.28" y="691" font-family="'Liberation Serif', serif" font-size="26.5" font-style="italic" fill="#000">i</text>
<text x="250.9" y="691" font-family="'Liberation Serif', serif" font-size="26.5" fill="#000">R</text>
<text x="276.32" y="691" font-family="'Liberation Serif', serif" font-size="26.5" fill="#000">/</text>
<text x="290.93" y="691" font-family="'Liberation Serif', serif" font-size="26.5" fill="#000">V</text>
<text transform="rotate(-90)" x="-422.59" y="62" font-family="'Liberation Serif', serif" font-size="26.5" font-style="italic">j</text>
<text transform="rotate(-90)" x="-406.83" y="62" font-family="'Liberation Serif', serif" font-size="26.5">/</text>
<text transform="rotate(-90)" x="-391.93" y="62" font-family="'Liberation Serif', serif" font-size="26.5">m</text>
<text transform="rotate(-90)" x="-370.45" y="62" font-family="'Liberation Serif', serif" font-size="26.5">A</text>
<text transform="rotate(-90)" x="-351.86" y="62" font-family="'Liberation Serif', serif" font-size="26.5">·</text>
<text transform="rotate(-90)" x="-344.83" y="62" font-family="'Liberation Serif', serif" font-size="26.5">c</text>
<text transform="rotate(-90)" x="-333.03" y="62" font-family="'Liberation Serif', serif" font-size="26.5">m</text>
<text transform="rotate(-90)" x="-309.67" y="50.9" font-family="'Liberation Serif', serif" font-size="17.5">-</text>
<text transform="rotate(-90)" x="-303.58" y="50.9" font-family="'Liberation Serif', serif" font-size="17.5">2</text>
<text transform="rotate(-90)" x="-306.75" y="70" font-family="'Liberation Serif', serif" font-size="17.5">disk</text>
<rect x="510" y="86" width="273" height="527" fill="none" stroke="#000" stroke-width="2"/>
<path d="M501,604H509M501,517.66H509M501,431.33H509M501,345H509M501,258.66H509M501,172.32H509M501,85.99H509M505,560.83H509M505,474.5H509M505,388.16H509M505,301.83H509M505,215.49H509M505,129.16H509M510,614V622M555,614V622M601,614V622M646,614V622M692,614V622M737,614V622M783,614V622M532,614V617M578,614V617M623,614V617M669,614V617M714,614V617M760,614V617" stroke="#000" stroke-width="2" fill="none"/>
<text x="493.6" y="610.9" text-anchor="end" font-family="'Liberation Serif', serif" font-size="24">0</text>
<text x="493.6" y="524.56" text-anchor="end" font-family="'Liberation Serif', serif" font-size="24">5</text>
<text x="493.6" y="438.23" text-anchor="end" font-family="'Liberation Serif', serif" font-size="24">10</text>
<text x="493.6" y="351.89" text-anchor="end" font-family="'Liberation Serif', serif" font-size="24">15</text>
<text x="493.6" y="265.56" text-anchor="end" font-family="'Liberation Serif', serif" font-size="24">20</text>
<text x="493.6" y="179.22" text-anchor="end" font-family="'Liberation Serif', serif" font-size="24">25</text>
<text x="493.6" y="92.89" text-anchor="end" font-family="'Liberation Serif', serif" font-size="24">30</text>
<text x="508.9" y="646" text-anchor="middle" font-family="'Liberation Serif', serif" font-size="24">1.1</text>
<text x="554.4" y="646" text-anchor="middle" font-family="'Liberation Serif', serif" font-size="24">1.2</text>
<text x="599.9" y="646" text-anchor="middle" font-family="'Liberation Serif', serif" font-size="24">1.3</text>
<text x="645.4" y="646" text-anchor="middle" font-family="'Liberation Serif', serif" font-size="24">1.4</text>
<text x="690.9" y="646" text-anchor="middle" font-family="'Liberation Serif', serif" font-size="24">1.5</text>
<text x="736.4" y="646" text-anchor="middle" font-family="'Liberation Serif', serif" font-size="24">1.6</text>
<text x="781.9" y="646" text-anchor="middle" font-family="'Liberation Serif', serif" font-size="24">1.7</text>
<path d="M510,605C518.33,604.75 545,604 560,603.5C575,603 584.58,602.57 600,602C615.42,601.43 639.17,600.45 652.5,600.1C665.83,599.75 671.25,600.07 680,599.9C688.75,599.73 696.85,599.48 705,599.1C713.15,598.72 721.07,598.1 728.9,597.6C736.73,597.1 745.65,596.62 752,596.1C758.35,595.58 761.83,595.27 767,594.5C772.17,593.73 780.33,592 783,591.5" stroke="#7a5252" stroke-width="1.8" fill="none" stroke-dasharray="2 3"/>
<path d="M510.0,604.8 511.5,604.8 513.0,604.8 514.5,604.8 516.0,604.8 517.5,604.8 519.0,604.8 520.5,604.8 522.0,604.7 523.6,604.7 525.1,604.7 526.6,604.7 528.1,604.6 529.6,604.6 531.1,604.5 532.6,604.5 534.1,604.4 535.6,604.4 537.1,604.3 538.6,604.3 540.1,604.2 541.6,604.2 543.1,604.1 544.6,604.0 546.1,604.0 547.6,603.9 549.1,603.9 550.6,603.8 552.1,603.7 553.7,603.7 555.2,603.6 556.7,603.5 558.2,603.5 559.7,603.4 561.2,603.3 562.7,603.3 564.2,603.2 565.7,603.1 567.2,603.1 568.7,603.0 570.2,603.0 571.7,602.9 573.2,602.9 574.7,602.8 576.2,602.8 577.7,602.7 579.2,602.7 580.7,602.6 582.2,602.6 583.7,602.5 585.2,602.5 586.7,602.5 588.2,602.5 589.7,602.4 591.2,602.4 592.7,602.4 594.2,602.4 595.7,602.4 597.2,602.4 598.7,602.3 600.2,602.3 601.7,602.3 603.2,602.3 604.8,602.3 606.3,602.3 607.8,602.3 609.3,602.2 610.8,602.2 612.3,602.2 613.8,602.2 615.3,602.1 616.8,602.1 618.4,602.0 619.9,602.0 621.4,601.9 622.9,601.9 624.4,601.8 625.9,601.7 627.5,601.6 629.0,601.5 630.5,601.4 632.0,601.3 633.6,601.2 635.1,601.0 636.6,600.9 638.1,600.7 639.6,600.5 641.1,600.3 642.6,600.0 644.1,599.7 645.6,599.4 647.0,599.1 648.4,598.7 649.9,598.3 651.3,597.9 652.6,597.4 654.0,596.9 655.3,596.3 656.7,595.7 657.9,595.1 659.2,594.4 660.4,593.6 661.6,592.8 662.8,592.0 664.0,591.1 665.1,590.1 666.2,589.2 667.2,588.1 668.3,587.1 669.3,586.0 670.3,584.9 671.2,583.7 672.1,582.6 673.0,581.4 673.9,580.1 674.7,578.9 675.5,577.6 676.3,576.3 677.1,574.9 677.8,573.6 678.5,572.2 679.1,570.9 679.8,569.5 680.4,568.1 681.0,566.7 681.5,565.3 682.0,563.8 682.5,562.4 683.0,561.0 683.5,559.5 683.9,558.0 684.4,556.6 684.8,555.1 685.2,553.6 685.6,552.2 686.0,550.7 686.3,549.2 686.7,547.8 687.1,546.3 687.4,544.8 687.8,543.3 688.1,541.9 688.5,540.4 688.8,538.9 689.2,537.5 689.5,536.0 689.9,534.5 690.2,533.1 690.5,531.6 690.9,530.1 691.2,528.7 691.5,527.2 691.9,525.7 692.2,524.3 692.5,522.8 692.8,521.4 693.2,519.9 693.5,518.4 693.8,517.0 694.1,515.5 694.4,514.0 694.7,512.6 695.0,511.1 695.3,509.7 695.6,508.2 695.9,506.7 696.2,505.2 696.5,503.8 696.8,502.3 697.0,500.8 697.3,499.3 697.6,497.9 697.9,496.4 698.1,494.9 698.4,493.4 698.7,491.9 698.9,490.5 699.2,489.0 699.5,487.5 699.7,486.0 700.0,484.5 700.2,483.0 700.5,481.6 700.7,480.1 701.0,478.6 701.2,477.1 701.4,475.6 701.7,474.1 701.9,472.6 702.1,471.1 702.4,469.7 702.6,468.2 702.8,466.7 703.1,465.2 703.3,463.7 703.5,462.2 703.7,460.7 703.9,459.2 704.2,457.7 704.4,456.2 704.6,454.8 704.8,453.3 705.0,451.8 705.2,450.3 705.4,448.8 705.6,447.3 705.8,445.8 706.0,444.3 706.2,442.8 706.4,441.3 706.6,439.8 706.8,438.3 707.0,436.9 707.2,435.4 707.4,433.9 707.6,432.4 707.7,430.9 707.9,429.4 708.1,427.9 708.3,426.4 708.5,424.9 708.7,423.4 708.8,421.9 709.0,420.4 709.2,418.9 709.4,417.4 709.5,415.9 709.7,414.5 709.9,413.0 710.1,411.5 710.2,410.0 710.4,408.5 710.6,407.0 710.7,405.5 710.9,404.0 711.1,402.5 711.2,401.0 711.4,399.5 711.5,398.0 711.7,396.5 711.9,395.0 712.0,393.5 712.2,392.0 712.4,390.5 712.5,389.0 712.7,387.5 712.8,386.0 713.0,384.5 713.1,383.0 713.3,381.5 713.5,380.0 713.6,378.5 713.8,377.1 713.9,375.6 714.1,374.1 714.2,372.6 714.4,371.1 714.5,369.6 714.7,368.1 714.9,366.6 715.0,365.1 715.2,363.6 715.3,362.1 715.5,360.6 715.6,359.1 715.8,357.6 715.9,356.1 716.1,354.6 716.2,353.1 716.4,351.6 716.5,350.1 716.7,348.6 716.9,347.1 717.0,345.6 717.2,344.1 717.3,342.6 717.5,341.1 717.6,339.6 717.8,338.1 717.9,336.6 718.1,335.1 718.3,333.6 718.4,332.1 718.6,330.6 718.7,329.1 718.9,327.6 719.0,326.1 719.2,324.6 719.4,323.1 719.5,321.6 719.7,320.1 719.8,318.6 720.0,317.1 720.2,315.6 720.3,314.1 720.5,312.6 720.6,311.1 720.8,309.6 720.9,308.1 721.1,306.6 721.3,305.1 721.4,303.6 721.6,302.2 721.7,300.7 721.9,299.2 722.1,297.7 722.2,296.2 722.4,294.7 722.5,293.2 722.7,291.7 722.8,290.2 723.0,288.7 723.1,287.2 723.3,285.7 723.5,284.2 723.6,282.7 723.8,281.2 723.9,279.7 724.1,278.2 724.2,276.7 724.4,275.2 724.5,273.7 724.7,272.2 724.8,270.7 725.0,269.2 725.1,267.7 725.3,266.2 725.4,264.7 725.5,263.2 725.7,261.7 725.8,260.2 726.0,258.7 726.1,257.2 726.3,255.7 726.4,254.2 726.5,252.7 726.7,251.2 726.8,249.7 727.0,248.3 727.1,246.8 727.2,245.3 727.4,243.8 727.5,242.3 727.6,240.8 727.7,239.3 727.9,237.8 728.0,236.3 728.1,234.8 728.3,233.3 728.4,231.8 728.5,230.3 728.6,228.8 728.7,227.3 728.9,225.8 729.0,224.3 729.1,222.8 729.2,221.3 729.3,219.9 729.4,218.4 729.5,216.9 729.6,215.4 729.8,213.9 729.9,212.4 730.0,210.9 730.1,209.4 730.2,207.9 730.3,206.4 730.4,204.9 730.5,203.4 730.6,201.9 730.6,200.4 730.7,198.9" stroke="#000000" stroke-width="2" fill="none" stroke-linejoin="round"/>
<path d="M510.1,605.5 511.6,605.5 513.1,605.4 514.6,605.4 516.0,605.3 517.5,605.2 519.0,605.2 520.5,605.1 522.0,605.1 523.5,605.0 525.0,605.0 526.5,604.9 528.0,604.9 529.5,604.8 531.0,604.8 532.5,604.7 534.0,604.7 535.5,604.6 537.0,604.6 538.5,604.5 540.0,604.5 541.5,604.4 543.0,604.4 544.6,604.3 546.1,604.3 547.6,604.2 549.1,604.2 550.6,604.1 552.1,604.1 553.6,604.1 555.2,604.0 556.7,604.0 558.2,603.9 559.7,603.9 561.2,603.8 562.7,603.8 564.2,603.7 565.8,603.7 567.3,603.6 568.8,603.6 570.3,603.5 571.8,603.5 573.3,603.4 574.8,603.4 576.3,603.3 577.9,603.3 579.4,603.2 580.9,603.2 582.4,603.1 583.9,603.1 585.4,603.0 586.9,602.9 588.4,602.9 589.9,602.8 591.4,602.8 592.9,602.7 594.4,602.6 595.8,602.6 597.3,602.5 598.8,602.4 600.3,602.4 601.8,602.3 603.3,602.2 604.7,602.2 606.2,602.1 607.7,602.0 609.2,601.9 610.6,601.8 612.1,601.8 613.6,601.7 615.0,601.6 616.5,601.5 618.0,601.4 619.5,601.3 621.0,601.2 622.5,601.1 624.0,601.0 625.5,600.9 627.1,600.8 628.6,600.7 630.2,600.6 631.7,600.5 633.3,600.4 634.9,600.3 636.5,600.2 638.1,600.0 639.7,599.8 641.2,599.6 642.8,599.4 644.3,599.1 645.8,598.8 647.3,598.4 648.8,598.0 650.2,597.5 651.6,597.0 652.9,596.4 654.3,595.8 655.5,595.1 656.8,594.4 657.9,593.6 659.1,592.7 660.2,591.8 661.3,590.8 662.4,589.8 663.4,588.8 664.4,587.7 665.3,586.6 666.2,585.5 667.1,584.3 668.0,583.1 668.8,581.9 669.6,580.6 670.4,579.3 671.2,578.0 671.9,576.7 672.6,575.3 673.3,574.0 674.0,572.6 674.7,571.2 675.3,569.9 675.9,568.5 676.5,567.1 677.1,565.7 677.7,564.3 678.2,562.9 678.8,561.5 679.3,560.1 679.8,558.6 680.3,557.2 680.8,555.8 681.2,554.4 681.7,552.9 682.1,551.5 682.5,550.1 682.9,548.6 683.3,547.2 683.7,545.7 684.1,544.3 684.4,542.8 684.8,541.4 685.1,539.9 685.4,538.4 685.8,537.0 686.1,535.5 686.4,534.0 686.6,532.6 686.9,531.1 687.2,529.6 687.5,528.1 687.7,526.6 688.0,525.2 688.2,523.7 688.4,522.2 688.7,520.7 688.9,519.2 689.1,517.7 689.3,516.2 689.5,514.7 689.7,513.2 689.9,511.7 690.1,510.2 690.3,508.7 690.5,507.2 690.7,505.7 690.8,504.2 691.0,502.7 691.2,501.2 691.4,499.7 691.5,498.2 691.7,496.7 691.9,495.2 692.1,493.7 692.2,492.2 692.4,490.7 692.6,489.2 692.8,487.7 692.9,486.2 693.1,484.7 693.3,483.2 693.5,481.7 693.7,480.2 693.9,478.7 694.0,477.2 694.2,475.7 694.4,474.2 694.6,472.7 694.8,471.2 695.0,469.7 695.2,468.3 695.5,466.8 695.7,465.3 695.9,463.8 696.1,462.3 696.3,460.8 696.5,459.3 696.7,457.8 696.9,456.3 697.2,454.8 697.4,453.3 697.6,451.9 697.8,450.4 698.0,448.9 698.3,447.4 698.5,445.9 698.7,444.4 698.9,442.9 699.1,441.4 699.4,440.0 699.6,438.5 699.8,437.0 700.0,435.5 700.2,434.0 700.5,432.5 700.7,431.0 700.9,429.6 701.1,428.1 701.3,426.6 701.6,425.1 701.8,423.6 702.0,422.1 702.2,420.6 702.4,419.1 702.6,417.7 702.8,416.2 703.0,414.7 703.2,413.2 703.4,411.7 703.6,410.2 703.8,408.7 704.0,407.2 704.2,405.7 704.4,404.2 704.6,402.7 704.8,401.3 704.9,399.8 705.1,398.3 705.3,396.8 705.5,395.3 705.6,393.8 705.8,392.3 706.0,390.8 706.1,389.3 706.3,387.8 706.4,386.3 706.6,384.8 706.7,383.3 706.9,381.8 707.1,380.3 707.2,378.8 707.3,377.3 707.5,375.8 707.6,374.3 707.8,372.8 707.9,371.3 708.1,369.8 708.2,368.3 708.3,366.8 708.5,365.3 708.6,363.8 708.8,362.3 708.9,360.8 709.0,359.3 709.2,357.8 709.3,356.3 709.4,354.8 709.6,353.3 709.7,351.8 709.8,350.3 710.0,348.8 710.1,347.3 710.3,345.8 710.4,344.3 710.5,342.8 710.7,341.3 710.8,339.8 710.9,338.3 711.1,336.8 711.2,335.3 711.4,333.8 711.5,332.3 711.6,330.8 711.8,329.3 711.9,327.8 712.1,326.3 712.2,324.8 712.4,323.3 712.5,321.8 712.7,320.3 712.9,318.8 713.0,317.3 713.2,315.8 713.3,314.3 713.5,312.8 713.7,311.3 713.8,309.8 714.0,308.3 714.1,306.9 714.3,305.4 714.4,303.9 714.6,302.4 714.8,300.9 714.9,299.4 715.1,297.9 715.2,296.4 715.4,294.9 715.5,293.4 715.6,291.9 715.8,290.4 715.9,288.9 716.0,287.4 716.2,285.9 716.3,284.4 716.4,282.9 716.5,281.4 716.6,280.0 716.7,278.5 716.8,277.0 716.9,275.5 717.0,274.0 717.1,272.5 717.2,271.0 717.3,269.5 717.4,268.0 717.5,266.4 717.6,264.9 717.6,263.4 717.7,261.9 717.8,260.4 717.9,258.9 718.0,257.4 718.1,255.9 718.1,254.4 718.2,252.9 718.3,251.4 718.4,249.9 718.5,248.4 718.6,246.9 718.7,245.4 718.7,243.9 718.8,242.4 718.9,240.9 719.0,239.4 719.1,237.9 719.2,236.4 719.4,234.9 719.5,233.4 719.6,231.9 719.7,230.4 719.8,228.9 719.9,227.4 720.0,225.9 720.1,224.4 720.2,222.9 720.4,221.4 720.5,219.9 720.6,218.4 720.7,216.9 720.8,215.4 721.0,213.9 721.1,212.4 721.2,210.9 721.3,209.4 721.5,207.9 721.6,206.4 721.7,204.9 721.8,203.4 722.0,201.9 722.1,200.4 722.2,198.9 722.4,197.4 722.5,195.9 722.6,194.4 722.7,192.9 722.9,191.4 723.0,189.9 723.1,188.4 723.3,186.9 723.4,185.4 723.5,183.9 723.6,182.4 723.8,180.9 723.9,179.4 724.0,177.9 724.1,176.4 724.2,174.9 724.4,173.4 724.5,171.9 724.6,170.4 724.7,168.9 724.8,167.4 725.0,165.9 725.1,164.4 725.2,162.9 725.3,161.4 725.4,159.9 725.5,158.4 725.6,156.9 725.7,155.4 725.8,153.9 725.9,152.3 726.0,150.8 726.1,149.3 726.2,147.8 726.3,146.3 726.4,144.8 726.5,143.3 726.5,141.8 726.6,140.3 726.7,138.8 726.8,137.3 726.8,135.8 726.9,134.3 726.9,132.8 727.0,131.3 727.1,129.8 727.1,128.3 727.1,126.8 727.2,125.3 727.2,123.8 727.2,122.3 727.3,120.8 727.3,119.3 727.3,117.8 727.4,116.3 727.4,114.8 727.5,113.3 727.6,111.8 727.7,110.3 727.9,108.9 728.1,107.4 728.3,105.9 728.6,104.5 728.9,103.1 729.1,101.6 729.4,100.2 729.6,98.7 729.7,97.3 729.7,95.9 729.6,94.4 729.3,93.0 728.8,91.5" stroke="#2a8c6c" stroke-width="2" fill="none" stroke-linejoin="round"/>
<path d="M510.0,604.6 511.5,604.5 513.0,604.5 514.5,604.4 516.0,604.3 517.5,604.3 519.0,604.2 520.5,604.2 522.0,604.1 523.5,604.1 525.0,604.0 526.5,604.0 528.0,603.9 529.5,603.9 531.1,603.8 532.6,603.8 534.1,603.8 535.6,603.7 537.1,603.7 538.6,603.6 540.1,603.6 541.6,603.6 543.1,603.5 544.6,603.5 546.1,603.5 547.6,603.4 549.1,603.4 550.6,603.4 552.2,603.3 553.7,603.3 555.2,603.3 556.7,603.2 558.2,603.2 559.7,603.2 561.2,603.1 562.7,603.1 564.2,603.1 565.7,603.0 567.2,603.0 568.8,602.9 570.3,602.9 571.8,602.9 573.3,602.8 574.8,602.8 576.3,602.8 577.8,602.7 579.3,602.7 580.8,602.6 582.3,602.6 583.8,602.5 585.3,602.5 586.8,602.4 588.3,602.4 589.8,602.3 591.3,602.3 592.9,602.2 594.4,602.1 595.9,602.1 597.4,602.0 598.9,601.9 600.4,601.9 601.9,601.8 603.4,601.7 604.8,601.6 606.3,601.6 607.8,601.5 609.3,601.4 610.8,601.3 612.3,601.2 613.8,601.1 615.3,601.1 616.8,601.0 618.3,600.9 619.8,600.8 621.3,600.7 622.8,600.6 624.3,600.5 625.7,600.5 627.2,600.4 628.7,600.3 630.2,600.2 631.7,600.2 633.2,600.1 634.7,600.1 636.3,600.0 637.8,600.0 639.4,599.9 641.0,599.9 642.6,599.8 644.3,599.8 645.9,599.7 647.6,599.6 649.2,599.4 650.8,599.2 652.3,598.9 653.7,598.4 655.1,597.9 656.4,597.3 657.7,596.6 658.8,595.8 659.9,595.0 661.0,594.0 662.0,593.0 662.9,592.0 663.8,590.9 664.7,589.7 665.5,588.5 666.2,587.3 667.0,586.0 667.7,584.7 668.4,583.4 669.0,582.0 669.6,580.6 670.2,579.2 670.8,577.8 671.4,576.4 671.9,575.0 672.5,573.6 673.0,572.2 673.5,570.8 674.0,569.4 674.5,568.0 674.9,566.5 675.4,565.1 675.8,563.7 676.2,562.2 676.7,560.8 677.1,559.3 677.5,557.9 677.8,556.4 678.2,555.0 678.6,553.5 678.9,552.1 679.2,550.6 679.6,549.1 679.9,547.7 680.2,546.2 680.5,544.7 680.8,543.2 681.0,541.8 681.3,540.3 681.6,538.8 681.8,537.3 682.1,535.8 682.3,534.3 682.5,532.9 682.8,531.4 683.0,529.9 683.2,528.4 683.4,526.9 683.6,525.4 683.8,523.9 684.0,522.4 684.2,520.9 684.4,519.4 684.6,517.9 684.7,516.4 684.9,514.9 685.1,513.4 685.3,511.9 685.4,510.4 685.6,508.9 685.7,507.4 685.9,505.9 686.1,504.3 686.2,502.8 686.4,501.3 686.5,499.8 686.7,498.3 686.9,496.8 687.0,495.3 687.2,493.8 687.3,492.3 687.5,490.8 687.6,489.3 687.8,487.8 688.0,486.3 688.1,484.8 688.3,483.3 688.4,481.8 688.6,480.3 688.8,478.8 688.9,477.3 689.1,475.8 689.2,474.3 689.4,472.8 689.5,471.3 689.7,469.8 689.8,468.3 690.0,466.8 690.2,465.3 690.3,463.8 690.5,462.3 690.6,460.8 690.8,459.4 690.9,457.9 691.1,456.4 691.2,454.9 691.4,453.4 691.5,451.9 691.7,450.4 691.8,448.9 692.0,447.4 692.1,445.9 692.3,444.4 692.4,442.9 692.6,441.4 692.7,439.9 692.9,438.4 693.0,436.9 693.2,435.4 693.3,433.9 693.4,432.4 693.6,430.9 693.7,429.4 693.9,427.9 694.0,426.4 694.2,424.9 694.3,423.4 694.4,421.9 694.6,420.4 694.7,418.9 694.8,417.4 695.0,415.9 695.1,414.4 695.2,412.9 695.4,411.4 695.5,410.0 695.6,408.5 695.8,407.0 695.9,405.5 696.0,404.0 696.2,402.5 696.3,401.0 696.4,399.5 696.5,398.0 696.7,396.5 696.8,395.0 696.9,393.5 697.0,392.0 697.2,390.5 697.3,389.0 697.4,387.5 697.5,386.0 697.6,384.4 697.8,382.9 697.9,381.4 698.0,379.9 698.1,378.4 698.2,376.9 698.4,375.4 698.5,373.9 698.6,372.4 698.7,370.9 698.8,369.4 698.9,367.9 699.0,366.4 699.2,364.9 699.3,363.4 699.4,361.9 699.5,360.4 699.6,358.9 699.7,357.4 699.8,355.9 699.9,354.4 700.0,352.9 700.1,351.4 700.2,349.9 700.4,348.4 700.5,346.9 700.6,345.4 700.7,343.9 700.8,342.4 700.9,340.9 701.0,339.4 701.1,337.9 701.2,336.4 701.3,334.9 701.4,333.4 701.5,331.8 701.6,330.3 701.7,328.8 701.8,327.3 701.9,325.8 702.0,324.3 702.1,322.8 702.2,321.3 702.3,319.8 702.4,318.3 702.5,316.8 702.6,315.3 702.7,313.8 702.8,312.3 702.9,310.8 703.0,309.3 703.1,307.8 703.2,306.3 703.3,304.8 703.4,303.3 703.5,301.8 703.6,300.3 703.7,298.8 703.8,297.2 703.9,295.7 704.0,294.2 704.1,292.7 704.1,291.2 704.2,289.7 704.3,288.2 704.4,286.7 704.5,285.2 704.6,283.7 704.7,282.2 704.8,280.7 704.9,279.2 705.0,277.7 705.1,276.2 705.2,274.7 705.3,273.2 705.4,271.7 705.5,270.2 705.6,268.7 705.6,267.2 705.7,265.7 705.8,264.2 705.9,262.7 706.0,261.2 706.1,259.6 706.2,258.1 706.3,256.6 706.4,255.1 706.5,253.6 706.6,252.1 706.7,250.6 706.8,249.1 706.9,247.6 707.0,246.1 707.0,244.6 707.1,243.1 707.2,241.6 707.3,240.1 707.4,238.6 707.5,237.1 707.6,235.6 707.7,234.1 707.8,232.6 707.9,231.1 708.0,229.6 708.0,228.1 708.1,226.6 708.2,225.1 708.3,223.6 708.4,222.1 708.5,220.6 708.6,219.1 708.7,217.6 708.7,216.1 708.8,214.6 708.9,213.1 709.0,211.6 709.1,210.1 709.1,208.6 709.2,207.1 709.3,205.6 709.4,204.0 709.5,202.5 709.5,201.0 709.6,199.5 709.7,198.0 709.7,196.5 709.8,195.0 709.9,193.5 709.9,192.0 710.0,190.5 710.1,189.0 710.1,187.5 710.2,186.0 710.2,184.5 710.3,183.0 710.4,181.5 710.4,180.0 710.5,178.5 710.5,177.0 710.6,175.5 710.6,174.0 710.7,172.5 710.7,171.0 710.7,169.5 710.8,168.0 710.8,166.4 710.8,164.9 710.9,163.4 710.9,161.9 710.9,160.4 711.0,158.9 711.0,157.4 711.0,155.9 711.0,154.4 711.1,152.9 711.1,151.4 711.1,149.9 711.1,148.4 711.1,146.9 711.2,145.4 711.2,143.8 711.2,142.3 711.3,140.8 711.3,139.3 711.3,137.8 711.4,136.3 711.4,134.8 711.4,133.3 711.5,131.8 711.5,130.3 711.6,128.8 711.6,127.3 711.7,125.8 711.7,124.3 711.8,122.8 711.9,121.3 712.0,119.8 712.1,118.3 712.1,116.7 712.2,115.2 712.3,113.7 712.4,112.2 712.6,110.7 712.7,109.2 712.8,107.7 712.9,106.2 713.1,104.7 713.2,103.2 713.4,101.7 713.6,100.2 713.8,98.7 713.9,97.2 714.1,95.7 714.3,94.3 714.6,92.8 714.8,91.3 715.0,89.8 715.3,88.3 715.5,86.8" stroke="#d92b4b" stroke-width="2" fill="none" stroke-linejoin="round"/>
<path d="M509.9,603.7 511.4,603.7 512.9,603.7 514.5,603.8 516.0,603.8 517.5,603.8 519.0,603.8 520.6,603.8 522.1,603.8 523.6,603.8 525.1,603.8 526.6,603.8 528.2,603.8 529.7,603.8 531.2,603.7 532.7,603.7 534.2,603.7 535.7,603.6 537.2,603.6 538.7,603.5 540.2,603.5 541.7,603.5 543.2,603.4 544.7,603.3 546.2,603.3 547.7,603.2 549.2,603.2 550.7,603.1 552.2,603.1 553.7,603.0 555.2,602.9 556.7,602.9 558.2,602.8 559.7,602.7 561.1,602.7 562.6,602.6 564.1,602.5 565.6,602.5 567.1,602.4 568.6,602.3 570.1,602.3 571.6,602.2 573.1,602.2 574.6,602.1 576.1,602.0 577.6,602.0 579.1,601.9 580.6,601.9 582.1,601.8 583.6,601.8 585.1,601.8 586.6,601.7 588.1,601.7 589.6,601.7 591.1,601.6 592.6,601.6 594.1,601.6 595.7,601.6 597.2,601.6 598.7,601.6 600.2,601.6 601.7,601.6 603.3,601.6 604.8,601.6 606.3,601.6 607.8,601.6 609.4,601.6 610.9,601.7 612.4,601.7 613.9,601.7 615.5,601.7 617.0,601.7 618.5,601.7 620.0,601.7 621.6,601.6 623.1,601.6 624.6,601.5 626.1,601.5 627.7,601.4 629.2,601.3 630.7,601.2 632.2,601.1 633.7,601.0 635.2,600.8 636.7,600.7 638.2,600.5 639.7,600.3 641.2,600.0 642.7,599.8 644.1,599.5 645.6,599.2 647.1,598.9 648.6,598.5 650.0,598.1 651.4,597.7 652.8,597.2 654.2,596.7 655.6,596.1 656.9,595.5 658.2,594.9 659.4,594.2 660.6,593.4 661.8,592.6 662.8,591.7 663.9,590.7 664.9,589.7 665.8,588.6 666.7,587.4 667.5,586.2 668.3,585.0 669.1,583.7 669.8,582.4 670.5,581.1 671.2,579.7 671.8,578.3 672.4,577.0 673.0,575.6 673.6,574.2 674.2,572.8 674.7,571.4 675.2,570.0 675.8,568.6 676.3,567.1 676.7,565.7 677.2,564.3 677.7,562.9 678.1,561.4 678.5,560.0 679.0,558.6 679.4,557.1 679.7,555.7 680.1,554.2 680.5,552.8 680.8,551.3 681.2,549.8 681.5,548.4 681.8,546.9 682.1,545.4 682.4,544.0 682.7,542.5 683.0,541.0 683.3,539.5 683.6,538.0 683.8,536.6 684.1,535.1 684.3,533.6 684.6,532.1 684.8,530.6 685.0,529.1 685.2,527.6 685.4,526.1 685.7,524.6 685.9,523.1 686.1,521.6 686.3,520.1 686.5,518.6 686.7,517.1 686.9,515.6 687.0,514.1 687.2,512.6 687.4,511.1 687.6,509.6 687.8,508.1 688.0,506.6 688.2,505.1 688.4,503.6 688.5,502.1 688.7,500.6 688.9,499.1 689.1,497.6 689.3,496.1 689.5,494.6 689.7,493.1 689.9,491.6 690.1,490.1 690.3,488.6 690.5,487.1 690.7,485.6 690.9,484.1 691.1,482.6 691.3,481.1 691.5,479.6 691.7,478.1 691.9,476.6 692.1,475.1 692.3,473.6 692.5,472.1 692.6,470.7 692.8,469.2 693.0,467.7 693.2,466.2 693.4,464.7 693.6,463.2 693.8,461.7 694.0,460.2 694.2,458.7 694.4,457.2 694.6,455.7 694.8,454.2 695.0,452.7 695.2,451.3 695.4,449.8 695.6,448.3 695.8,446.8 696.0,445.3 696.2,443.8 696.4,442.3 696.5,440.8 696.7,439.3 696.9,437.8 697.1,436.3 697.3,434.9 697.5,433.4 697.6,431.9 697.8,430.4 698.0,428.9 698.2,427.4 698.4,425.9 698.5,424.4 698.7,422.9 698.9,421.4 699.0,419.9 699.2,418.4 699.4,416.9 699.5,415.5 699.7,414.0 699.9,412.5 700.0,411.0 700.2,409.5 700.3,408.0 700.5,406.5 700.7,405.0 700.8,403.5 701.0,402.0 701.1,400.5 701.3,399.0 701.4,397.5 701.5,396.0 701.7,394.5 701.8,393.0 702.0,391.5 702.1,390.0 702.3,388.5 702.4,387.0 702.5,385.5 702.7,384.0 702.8,382.5 702.9,381.0 703.1,379.5 703.2,378.0 703.3,376.5 703.5,375.1 703.6,373.6 703.7,372.1 703.8,370.6 703.9,369.1 704.1,367.6 704.2,366.1 704.3,364.6 704.4,363.1 704.5,361.6 704.7,360.1 704.8,358.6 704.9,357.1 705.0,355.6 705.1,354.1 705.2,352.6 705.3,351.1 705.4,349.6 705.5,348.1 705.7,346.6 705.8,345.0 705.9,343.5 706.0,342.0 706.1,340.5 706.2,339.0 706.3,337.5 706.4,336.0 706.5,334.5 706.6,333.0 706.7,331.5 706.7,330.0 706.8,328.5 706.9,327.0 707.0,325.5 707.1,324.0 707.2,322.5 707.3,321.0 707.4,319.5 707.5,318.0 707.6,316.5 707.6,315.0 707.7,313.5 707.8,312.0 707.9,310.5 708.0,309.0 708.1,307.5 708.1,306.0 708.2,304.5 708.3,303.0 708.4,301.5 708.5,300.0 708.5,298.5 708.6,296.9 708.7,295.4 708.8,293.9 708.8,292.4 708.9,290.9 709.0,289.4 709.1,287.9 709.1,286.4 709.2,284.9 709.3,283.4 709.3,281.9 709.4,280.4 709.5,278.9 709.6,277.4 709.6,275.9 709.7,274.4 709.8,272.9 709.8,271.4 709.9,269.9 710.0,268.4 710.0,266.8 710.1,265.3 710.1,263.8 710.2,262.3 710.3,260.8 710.3,259.3 710.4,257.8 710.5,256.3 710.5,254.8 710.6,253.3 710.6,251.8 710.7,250.3 710.8,248.8 710.8,247.3 710.9,245.8 710.9,244.3 711.0,242.8 711.0,241.2 711.1,239.7 711.2,238.2 711.2,236.7 711.3,235.2 711.3,233.7 711.4,232.2 711.4,230.7 711.5,229.2 711.5,227.7 711.6,226.2 711.7,224.7 711.7,223.2 711.8,221.7 711.8,220.2 711.9,218.7 711.9,217.2 712.0,215.6 712.0,214.1 712.1,212.6 712.1,211.1 712.2,209.6 712.2,208.1 712.3,206.6 712.4,205.1 712.4,203.6 712.5,202.1 712.5,200.6 712.6,199.1 712.6,197.6 712.7,196.1 712.7,194.6 712.8,193.1 712.8,191.6 712.9,190.1 712.9,188.5 713.0,187.0 713.0,185.5 713.1,184.0 713.1,182.5 713.2,181.0 713.2,179.5 713.3,178.0 713.3,176.5 713.4,175.0 713.4,173.5 713.5,172.0 713.6,170.5 713.6,169.0 713.7,167.5 713.7,166.0 713.8,164.5 713.8,163.0 713.9,161.5 713.9,160.0 714.0,158.5 714.0,157.0 714.1,155.5 714.1,153.9 714.2,152.4 714.3,150.9 714.3,149.4 714.4,147.9 714.4,146.4 714.5,144.9 714.5,143.4 714.6,141.9 714.7,140.4 714.7,138.9 714.8,137.4 714.8,135.9 714.9,134.4 715.0,132.9 715.0,131.4 715.1,129.9 715.1,128.4 715.2,126.9 715.3,125.4 715.3,123.9 715.4,122.4 715.4,120.9 715.5,119.4 715.6,117.9 715.6,116.4 715.7,114.9 715.8,113.4 715.8,111.9 715.9,110.4 716.0,108.9 716.0,107.4 716.1,105.9 716.2,104.4 716.3,102.9 716.3,101.4 716.4,99.9 716.5,98.4 716.5,96.9 716.6,95.4 716.7,93.9" stroke="#4a78c6" stroke-width="2" fill="none" stroke-linejoin="round"/>
<path d="M510.0,604.6 511.5,604.6 513.0,604.6 514.5,604.6 516.0,604.6 517.5,604.6 519.0,604.6 520.5,604.5 522.0,604.5 523.6,604.5 525.1,604.5 526.6,604.4 528.1,604.4 529.6,604.4 531.1,604.3 532.6,604.3 534.1,604.3 535.6,604.2 537.1,604.2 538.6,604.1 540.1,604.1 541.6,604.0 543.1,604.0 544.6,603.9 546.2,603.9 547.7,603.8 549.2,603.7 550.7,603.7 552.2,603.6 553.7,603.6 555.2,603.5 556.7,603.5 558.2,603.4 559.7,603.3 561.2,603.3 562.7,603.2 564.2,603.2 565.7,603.1 567.2,603.0 568.7,603.0 570.3,602.9 571.8,602.9 573.3,602.8 574.8,602.7 576.3,602.7 577.8,602.6 579.3,602.6 580.8,602.5 582.3,602.5 583.8,602.4 585.3,602.4 586.8,602.3 588.3,602.3 589.8,602.3 591.3,602.2 592.8,602.2 594.3,602.1 595.8,602.1 597.3,602.1 598.8,602.1 600.4,602.0 601.9,602.0 603.4,602.0 604.9,602.0 606.4,602.0 607.9,601.9 609.4,601.9 610.9,601.9 612.4,601.9 613.9,601.9 615.4,601.8 616.9,601.8 618.4,601.8 619.9,601.7 621.4,601.7 622.9,601.6 624.4,601.5 625.9,601.5 627.4,601.4 629.0,601.3 630.5,601.2 632.0,601.1 633.5,600.9 635.0,600.8 636.5,600.6 638.0,600.5 639.6,600.3 641.1,600.1 642.6,599.9 644.1,599.6 645.6,599.4 647.2,599.1 648.7,598.8 650.2,598.5 651.7,598.1 653.1,597.7 654.6,597.2 656.0,596.8 657.4,596.2 658.7,595.6 660.0,595.0 661.3,594.2 662.5,593.4 663.6,592.6 664.6,591.6 665.7,590.6 666.6,589.5 667.5,588.4 668.3,587.2 669.1,585.9 669.9,584.7 670.6,583.3 671.3,582.0 671.9,580.6 672.6,579.2 673.2,577.8 673.8,576.4 674.4,575.0 674.9,573.6 675.5,572.2 676.0,570.8 676.6,569.4 677.1,568.0 677.5,566.6 678.0,565.1 678.5,563.7 678.9,562.3 679.4,560.8 679.8,559.4 680.2,557.9 680.6,556.5 681.0,555.0 681.3,553.6 681.7,552.1 682.1,550.7 682.4,549.2 682.7,547.7 683.0,546.3 683.3,544.8 683.7,543.3 683.9,541.8 684.2,540.4 684.5,538.9 684.8,537.4 685.0,535.9 685.3,534.4 685.5,532.9 685.8,531.4 686.0,530.0 686.2,528.5 686.5,527.0 686.7,525.5 686.9,524.0 687.1,522.5 687.3,521.0 687.5,519.5 687.7,518.0 687.9,516.5 688.1,515.0 688.3,513.5 688.5,512.0 688.7,510.5 688.9,509.0 689.0,507.5 689.2,506.0 689.4,504.5 689.6,503.0 689.8,501.5 690.0,500.0 690.2,498.5 690.4,497.0 690.6,495.5 690.7,494.0 690.9,492.5 691.1,491.0 691.3,489.5 691.5,488.0 691.7,486.5 691.9,485.0 692.1,483.5 692.3,482.0 692.4,480.5 692.6,479.0 692.8,477.5 693.0,476.0 693.2,474.5 693.4,473.0 693.6,471.5 693.8,470.0 694.0,468.6 694.1,467.1 694.3,465.6 694.5,464.1 694.7,462.6 694.9,461.1 695.1,459.6 695.2,458.1 695.4,456.6 695.6,455.1 695.8,453.6 696.0,452.1 696.1,450.6 696.3,449.1 696.5,447.6 696.7,446.1 696.9,444.6 697.0,443.1 697.2,441.6 697.4,440.2 697.5,438.7 697.7,437.2 697.9,435.7 698.1,434.2 698.2,432.7 698.4,431.2 698.5,429.7 698.7,428.2 698.9,426.7 699.0,425.2 699.2,423.7 699.3,422.2 699.5,420.7 699.7,419.2 699.8,417.7 700.0,416.2 700.1,414.7 700.3,413.2 700.4,411.7 700.5,410.2 700.7,408.7 700.8,407.2 701.0,405.7 701.1,404.2 701.2,402.7 701.4,401.2 701.5,399.7 701.7,398.2 701.8,396.7 701.9,395.2 702.0,393.7 702.2,392.2 702.3,390.7 702.4,389.2 702.6,387.7 702.7,386.2 702.8,384.7 702.9,383.2 703.0,381.7 703.2,380.2 703.3,378.7 703.4,377.2 703.5,375.7 703.6,374.2 703.7,372.7 703.8,371.2 704.0,369.7 704.1,368.2 704.2,366.7 704.3,365.2 704.4,363.7 704.5,362.2 704.6,360.7 704.7,359.2 704.8,357.7 704.9,356.2 705.0,354.7 705.1,353.2 705.2,351.7 705.3,350.2 705.4,348.7 705.5,347.2 705.6,345.7 705.7,344.2 705.8,342.7 705.9,341.2 706.0,339.7 706.1,338.2 706.1,336.7 706.2,335.2 706.3,333.7 706.4,332.2 706.5,330.6 706.6,329.1 706.7,327.6 706.8,326.1 706.8,324.6 706.9,323.1 707.0,321.6 707.1,320.1 707.2,318.6 707.2,317.1 707.3,315.6 707.4,314.1 707.5,312.6 707.6,311.1 707.6,309.6 707.7,308.1 707.8,306.6 707.9,305.1 707.9,303.6 708.0,302.0 708.1,300.5 708.2,299.0 708.2,297.5 708.3,296.0 708.4,294.5 708.4,293.0 708.5,291.5 708.6,290.0 708.6,288.5 708.7,287.0 708.8,285.5 708.9,284.0 708.9,282.5 709.0,281.0 709.1,279.5 709.1,278.0 709.2,276.4 709.3,274.9 709.3,273.4 709.4,271.9 709.4,270.4 709.5,268.9 709.6,267.4 709.6,265.9 709.7,264.4 709.8,262.9 709.8,261.4 709.9,259.9 710.0,258.4 710.0,256.9 710.1,255.4 710.1,253.8 710.2,252.3 710.3,250.8 710.3,249.3 710.4,247.8 710.4,246.3 710.5,244.8 710.6,243.3 710.6,241.8 710.7,240.3 710.7,238.8 710.8,237.3 710.9,235.8 710.9,234.3 711.0,232.8 711.1,231.2 711.1,229.7 711.2,228.2 711.2,226.7 711.3,225.2 711.4,223.7 711.4,222.2 711.5,220.7 711.5,219.2 711.6,217.7 711.7,216.2 711.7,214.7 711.8,213.2 711.8,211.7 711.9,210.2 712.0,208.6 712.0,207.1 712.1,205.6 712.1,204.1 712.2,202.6 712.3,201.1 712.3,199.6 712.4,198.1 712.5,196.6 712.5,195.1 712.6,193.6 712.7,192.1 712.7,190.6 712.8,189.1 712.8,187.6 712.9,186.1 713.0,184.6 713.0,183.0 713.1,181.5 713.2,180.0 713.2,178.5 713.3,177.0 713.4,175.5 713.4,174.0 713.5,172.5 713.6,171.0 713.7,169.5 713.7,168.0 713.8,166.5 713.9,165.0 713.9,163.5 714.0,162.0 714.1,160.5 714.2,159.0 714.2,157.5 714.3,156.0 714.4,154.5 714.5,153.0 714.5,151.4 714.6,149.9 714.7,148.4 714.8,146.9 714.8,145.4 714.9,143.9 715.0,142.4 715.1,140.9 715.2,139.4 715.2,137.9 715.3,136.4 715.4,134.9 715.5,133.4 715.6,131.9 715.7,130.4 715.8,128.9 715.8,127.4 715.9,125.9 716.0,124.4 716.1,122.9 716.2,121.4 716.3,119.9 716.4,118.4 716.5,116.9 716.6,115.4 716.7,113.9 716.8,112.4 716.9,110.9 717.0,109.4 717.1,107.9 717.2,106.4 717.3,104.9 717.4,103.4 717.5,101.9 717.6,100.4" stroke="#5fc15f" stroke-width="2" fill="none" stroke-linejoin="round"/>
<path d="M509.9,604.7 511.4,604.8 512.9,604.8 514.5,604.8 516.0,604.8 517.5,604.8 519.1,604.8 520.6,604.8 522.1,604.8 523.6,604.8 525.1,604.8 526.6,604.7 528.2,604.7 529.7,604.7 531.2,604.6 532.7,604.6 534.2,604.6 535.7,604.5 537.2,604.5 538.7,604.4 540.2,604.4 541.7,604.3 543.2,604.2 544.7,604.2 546.2,604.1 547.7,604.0 549.2,604.0 550.7,603.9 552.2,603.8 553.7,603.8 555.2,603.7 556.7,603.6 558.2,603.6 559.7,603.5 561.2,603.4 562.7,603.4 564.2,603.3 565.7,603.2 567.1,603.2 568.6,603.1 570.1,603.0 571.6,603.0 573.1,602.9 574.6,602.9 576.1,602.8 577.6,602.8 579.1,602.7 580.6,602.7 582.1,602.6 583.6,602.6 585.1,602.5 586.6,602.5 588.1,602.5 589.6,602.5 591.2,602.4 592.7,602.4 594.2,602.4 595.7,602.4 597.2,602.4 598.7,602.4 600.2,602.4 601.8,602.4 603.3,602.4 604.8,602.4 606.3,602.4 607.8,602.5 609.4,602.5 610.9,602.5 612.4,602.5 613.9,602.5 615.5,602.4 617.0,602.4 618.5,602.4 620.0,602.4 621.6,602.3 623.1,602.3 624.6,602.2 626.1,602.2 627.7,602.1 629.2,602.0 630.7,601.9 632.2,601.8 633.8,601.7 635.3,601.5 636.8,601.4 638.3,601.2 639.8,601.0 641.3,600.8 642.8,600.5 644.3,600.3 645.8,600.0 647.3,599.7 648.8,599.4 650.2,599.0 651.7,598.6 653.1,598.2 654.5,597.7 655.9,597.2 657.3,596.7 658.6,596.1 659.9,595.5 661.2,594.9 662.5,594.2 663.7,593.5 665.0,592.7 666.2,591.9 667.3,591.0 668.4,590.1 669.6,589.2 670.6,588.3 671.7,587.3 672.7,586.2 673.7,585.2 674.7,584.1 675.6,582.9 676.5,581.8 677.4,580.6 678.2,579.4 679.1,578.2 679.8,576.9 680.6,575.7 681.3,574.4 682.1,573.0 682.7,571.7 683.4,570.4 684.0,569.0 684.6,567.6 685.2,566.2 685.7,564.8 686.2,563.4 686.7,561.9 687.2,560.5 687.6,559.0 688.1,557.6 688.5,556.1 688.9,554.6 689.3,553.2 689.7,551.7 690.1,550.2 690.4,548.7 690.8,547.2 691.1,545.7 691.5,544.2 691.8,542.7 692.1,541.2 692.5,539.7 692.8,538.2 693.1,536.7 693.4,535.3 693.7,533.8 694.1,532.3 694.4,530.8 694.7,529.3 695.0,527.8 695.3,526.3 695.6,524.8 695.9,523.4 696.1,521.9 696.4,520.4 696.7,518.9 697.0,517.4 697.3,515.9 697.5,514.4 697.8,513.0 698.1,511.5 698.3,510.0 698.6,508.5 698.8,507.0 699.1,505.5 699.4,504.0 699.6,502.6 699.9,501.1 700.1,499.6 700.3,498.1 700.6,496.6 700.8,495.1 701.1,493.7 701.3,492.2 701.5,490.7 701.8,489.2 702.0,487.7 702.2,486.2 702.4,484.8 702.7,483.3 702.9,481.8 703.1,480.3 703.3,478.8 703.5,477.3 703.8,475.9 704.0,474.4 704.2,472.9 704.4,471.4 704.6,469.9 704.8,468.4 705.0,466.9 705.2,465.4 705.4,464.0 705.6,462.5 705.8,461.0 706.0,459.5 706.2,458.0 706.4,456.5 706.6,455.0 706.8,453.5 707.0,452.0 707.2,450.6 707.4,449.1 707.6,447.6 707.8,446.1 708.0,444.6 708.2,443.1 708.4,441.6 708.6,440.1 708.7,438.6 708.9,437.1 709.1,435.6 709.3,434.1 709.5,432.7 709.6,431.2 709.8,429.7 710.0,428.2 710.2,426.7 710.4,425.2 710.5,423.7 710.7,422.2 710.9,420.7 711.0,419.2 711.2,417.7 711.4,416.2 711.6,414.7 711.7,413.2 711.9,411.7 712.0,410.2 712.2,408.7 712.4,407.2 712.5,405.7 712.7,404.2 712.9,402.7 713.0,401.2 713.2,399.7 713.3,398.2 713.5,396.8 713.6,395.3 713.8,393.8 714.0,392.3 714.1,390.8 714.3,389.3 714.4,387.8 714.6,386.3 714.7,384.8 714.9,383.3 715.0,381.8 715.2,380.3 715.3,378.8 715.4,377.3 715.6,375.8 715.7,374.3 715.9,372.8 716.0,371.3 716.2,369.8 716.3,368.3 716.4,366.8 716.6,365.3 716.7,363.8 716.9,362.3 717.0,360.8 717.1,359.3 717.3,357.8 717.4,356.2 717.5,354.7 717.7,353.2 717.8,351.7 717.9,350.2 718.1,348.7 718.2,347.2 718.3,345.7 718.5,344.2 718.6,342.7 718.7,341.2 718.8,339.7 719.0,338.2 719.1,336.7 719.2,335.2 719.3,333.7 719.5,332.2 719.6,330.7 719.7,329.2 719.8,327.7 720.0,326.2 720.1,324.7 720.2,323.2 720.3,321.7 720.5,320.2 720.6,318.7 720.7,317.2 720.8,315.7 720.9,314.2 721.0,312.7 721.2,311.2 721.3,309.7 721.4,308.2 721.5,306.7 721.6,305.2 721.7,303.6 721.9,302.1 722.0,300.6 722.1,299.1 722.2,297.6 722.3,296.1 722.4,294.6 722.5,293.1 722.6,291.6 722.8,290.1 722.9,288.6 723.0,287.1 723.1,285.6 723.2,284.1 723.3,282.6 723.4,281.1 723.5,279.6 723.6,278.1 723.8,276.6 723.9,275.1 724.0,273.6 724.1,272.1 724.2,270.6 724.3,269.1 724.4,267.6 724.5,266.1 724.6,264.6 724.7,263.1 724.8,261.6 724.9,260.1 725.0,258.6 725.1,257.0 725.2,255.5 725.4,254.0 725.5,252.5 725.6,251.0 725.7,249.5 725.8,248.0 725.9,246.5 726.0,245.0 726.1,243.5 726.2,242.0 726.3,240.5 726.4,239.0 726.5,237.5 726.6,236.0 726.7,234.5 726.8,233.0 726.9,231.5 727.0,230.0 727.1,228.5 727.2,227.0 727.3,225.5 727.4,224.0 727.5,222.5 727.6,221.0 727.7,219.5 727.8,218.0 727.9,216.5 728.0,215.0 728.2,213.5 728.3,212.0 728.4,210.5 728.5,209.0 728.6,207.5 728.7,206.0 728.8,204.5 728.9,203.0 729.0,201.5 729.1,200.0 729.2,198.5 729.3,197.0 729.4,195.5 729.5,194.0 729.6,192.6" stroke="#9b6aab" stroke-width="2" fill="none" stroke-linejoin="round"/>
<path d="M510.0,604.5 511.5,604.5 513.0,604.4 514.5,604.4 516.0,604.3 517.5,604.3 519.0,604.2 520.5,604.2 522.0,604.1 523.5,604.1 525.1,604.0 526.6,604.0 528.1,603.9 529.6,603.9 531.1,603.8 532.6,603.8 534.1,603.7 535.6,603.7 537.1,603.7 538.6,603.6 540.1,603.6 541.7,603.5 543.2,603.5 544.7,603.5 546.2,603.4 547.7,603.4 549.2,603.3 550.7,603.3 552.2,603.2 553.8,603.2 555.3,603.2 556.8,603.1 558.3,603.1 559.8,603.0 561.3,603.0 562.8,603.0 564.3,602.9 565.9,602.9 567.4,602.8 568.9,602.8 570.4,602.7 571.9,602.7 573.4,602.6 574.9,602.6 576.4,602.5 577.9,602.5 579.4,602.5 580.9,602.4 582.4,602.4 583.9,602.3 585.5,602.2 587.0,602.2 588.5,602.1 590.0,602.1 591.5,602.0 593.0,602.0 594.5,601.9 596.0,601.9 597.5,601.8 599.0,601.8 600.5,601.7 602.0,601.6 603.5,601.6 605.0,601.5 606.5,601.5 608.0,601.4 609.5,601.4 611.0,601.3 612.5,601.2 614.0,601.2 615.5,601.1 617.0,601.1 618.5,601.0 620.0,600.9 621.5,600.9 623.0,600.8 624.6,600.8 626.1,600.7 627.6,600.7 629.1,600.6 630.6,600.5 632.1,600.5 633.6,600.4 635.2,600.4 636.7,600.3 638.2,600.3 639.7,600.2 641.3,600.2 642.8,600.1 644.3,600.1 645.8,600.0 647.4,599.9 648.9,599.8 650.4,599.7 651.9,599.6 653.4,599.4 654.9,599.2 656.4,599.0 657.9,598.7 659.4,598.4 660.8,598.1 662.3,597.7 663.7,597.3 665.1,596.8 666.5,596.2 667.9,595.7 669.3,595.0 670.6,594.4 672.0,593.7 673.3,592.9 674.6,592.1 675.8,591.3 677.1,590.4 678.3,589.5 679.4,588.6 680.6,587.7 681.7,586.7 682.8,585.7 683.8,584.6 684.8,583.5 685.8,582.5 686.8,581.3 687.7,580.2 688.6,579.0 689.5,577.9 690.3,576.6 691.2,575.4 692.0,574.2 692.7,572.9 693.5,571.6 694.2,570.3 695.0,569.0 695.7,567.7 696.4,566.4 697.0,565.0 697.7,563.7 698.3,562.3 698.9,560.9 699.5,559.5 700.1,558.1 700.7,556.7 701.3,555.3 701.9,553.9 702.4,552.5 703.0,551.0 703.5,549.6 704.1,548.2 704.6,546.7 705.1,545.3 705.7,543.9 706.2,542.4 706.7,541.0 707.3,539.6 707.8,538.1 708.3,536.7 708.8,535.3 709.3,533.8 709.8,532.4 710.3,531.0 710.8,529.5 711.3,528.1 711.8,526.7 712.3,525.2 712.8,523.8 713.3,522.4 713.8,520.9 714.2,519.5 714.7,518.1 715.2,516.6 715.7,515.2 716.1,513.8 716.6,512.3 717.0,510.9 717.5,509.5 717.9,508.0 718.4,506.6 718.8,505.1 719.3,503.7 719.7,502.3 720.1,500.8 720.6,499.4 721.0,497.9 721.4,496.5 721.8,495.1 722.3,493.6 722.7,492.2 723.1,490.7 723.5,489.3 723.9,487.8 724.3,486.4 724.6,484.9 725.0,483.5 725.4,482.0 725.8,480.6 726.2,479.1 726.5,477.7 726.9,476.2 727.3,474.8 727.6,473.3 728.0,471.9 728.3,470.4 728.7,468.9 729.0,467.5 729.3,466.0 729.7,464.5 730.0,463.1 730.3,461.6 730.6,460.1 730.9,458.7 731.2,457.2 731.6,455.7 731.8,454.3 732.1,452.8 732.4,451.3 732.7,449.8 733.0,448.4 733.3,446.9 733.5,445.4 733.8,443.9 734.1,442.4 734.3,440.9 734.6,439.4 734.8,437.9 735.1,436.5 735.3,435.0 735.5,433.5 735.8,432.0 736.0,430.5 736.2,429.0 736.4,427.5 736.7,426.0 736.9,424.5 737.1,423.0 737.3,421.5 737.5,420.0 737.8,418.5 738.0,417.0 738.2,415.5 738.4,414.0 738.6,412.5 738.8,411.0 739.0,409.5 739.3,408.0 739.5,406.5 739.7,405.0 739.9,403.5 740.1,402.0 740.4,400.5 740.6,399.0 740.8,397.5 741.1,396.0 741.3,394.5 741.6,393.0 741.8,391.5 742.1,390.0 742.3,388.6 742.6,387.1 742.9,385.6 743.2,384.1 743.4,382.6 743.7,381.2 744.0,379.7 744.3,378.2 744.6,376.7 744.9,375.3 745.2,373.8 745.5,372.3 745.8,370.8 746.1,369.4 746.4,367.9 746.7,366.4 747.0,365.0 747.3,363.5 747.6,362.0 747.8,360.5 748.1,359.1 748.4,357.6 748.7,356.1 748.9,354.7 749.2,353.2 749.4,351.7 749.5,350.3 749.7,348.8 749.8,347.3 749.9,345.9 750.0,344.4 750.0,343.0 749.9,341.6" stroke="#ee7d2c" stroke-width="2" fill="none" stroke-linejoin="round"/>
<rect x="515.5" y="96.5" width="150" height="195.5" fill="#fff" stroke="#000" stroke-width="1"/>
<path d="M517,110H563" stroke="#000000" stroke-width="2.2"/>
<text x="567" y="115.8" font-family="'Liberation Serif', serif" font-size="16.5" letter-spacing="1.45">1 Cycle</text>
<path d="M517,134.11H563" stroke="#2a8c6c" stroke-width="2.2"/>
<text x="567" y="139.91" font-family="'Liberation Serif', serif" font-size="16.5" letter-spacing="1.45">30 Cycles</text>
<path d="M517,158.22H563" stroke="#d92b4b" stroke-width="2.2"/>
<text x="567" y="164.02" font-family="'Liberation Serif', serif" font-size="16.5" letter-spacing="1.45">100 Cycles</text>
<path d="M517,182.33H563" stroke="#4a78c6" stroke-width="2.2"/>
<text x="567" y="188.13" font-family="'Liberation Serif', serif" font-size="16.5" letter-spacing="1.45">200 Cycles</text>
<path d="M517,206.44H563" stroke="#5fc15f" stroke-width="2.2"/>
<text x="567" y="212.24" font-family="'Liberation Serif', serif" font-size="16.5" letter-spacing="1.45">300 Cycles</text>
<path d="M517,230.55H563" stroke="#9b6aab" stroke-width="2.2"/>
<text x="567" y="236.35" font-family="'Liberation Serif', serif" font-size="16.5" letter-spacing="1.45">400 Cycles</text>
<path d="M517,254.66H563" stroke="#ee7d2c" stroke-width="2.2"/>
<text x="567" y="260.46" font-family="'Liberation Serif', serif" font-size="16.5" letter-spacing="1.45">500 Cycles</text>
<path d="M517,278.77H563" stroke="#7d4a42" stroke-width="1.6" stroke-dasharray="2 2.6"/>
<text x="567" y="284.57" font-family="'Liberation Serif', serif" font-size="16.5" letter-spacing="1.45">1000 Cycles</text>
<text x="600.43" y="688" font-family="'Liberation Serif', serif" font-size="26.5" fill="#000">E</text>
<text x="616.87" y="688" font-family="'Liberation Serif', serif" font-size="26.5" fill="#000">-</text>
<text x="634.33" y="688" font-family="'Liberation Serif', serif" font-size="26.5" font-style="italic" fill="#000">i</text>
<text x="647.15" y="688" font-family="'Liberation Serif', serif" font-size="26.5" fill="#000">R</text>
<text x="664.67" y="688" font-family="'Liberation Serif', serif" font-size="26.5" fill="#000">/</text>
<text x="671.73" y="688" font-family="'Liberation Serif', serif" font-size="26.5" fill="#000">V</text>
<text transform="rotate(-90)" x="-421.49" y="454.2" font-family="'Liberation Serif', serif" font-size="26.5" font-style="italic">j</text>
<text transform="rotate(-90)" x="-405.73" y="454.2" font-family="'Liberation Serif', serif" font-size="26.5">/</text>
<text transform="rotate(-90)" x="-390.83" y="454.2" font-family="'Liberation Serif', serif" font-size="26.5">m</text>
<text transform="rotate(-90)" x="-369.35" y="454.2" font-family="'Liberation Serif', serif" font-size="26.5">A</text>
<text transform="rotate(-90)" x="-350.76" y="454.2" font-family="'Liberation Serif', serif" font-size="26.5">·</text>
<text transform="rotate(-90)" x="-343.73" y="454.2" font-family="'Liberation Serif', serif" font-size="26.5">c</text>
<text transform="rotate(-90)" x="-331.93" y="454.2" font-family="'Liberation Serif', serif" font-size="26.5">m</text>
<text transform="rotate(-90)" x="-308.57" y="443.1" font-family="'Liberation Serif', serif" font-size="17.5">-</text>
<text transform="rotate(-90)" x="-302.48" y="443.1" font-family="'Liberation Serif', serif" font-size="17.5">2</text>
<text transform="rotate(-90)" x="-305.65" y="462.2" font-family="'Liberation Serif', serif" font-size="17.5">disk</text>
<rect x="895.5" y="86.5" width="322" height="268" fill="none" stroke="#000" stroke-width="1.2"/>
<path d="M892,297.9H895.5M892,221.1H895.5M892,144.3H895.5M893.5,336.3H895.5M893.5,259.5H895.5M893.5,182.7H895.5M893.5,105.9H895.5M960.5,354.5V358M1089,354.5V358M1217.5,354.5V358M1024.75,354.5V356.5M1153.25,354.5V356.5" stroke="#000" stroke-width="1.2" fill="none"/>
<text x="887" y="302.5" text-anchor="end" font-family="'Liberation Serif', serif" font-size="18" letter-spacing="0.6">1.6</text>
<text x="887" y="225.7" text-anchor="end" font-family="'Liberation Serif', serif" font-size="18" letter-spacing="0.6">1.8</text>
<text x="887" y="148.9" text-anchor="end" font-family="'Liberation Serif', serif" font-size="18" letter-spacing="0.6">2.0</text>
<text x="960.5" y="373.8" text-anchor="middle" font-family="'Liberation Serif', serif" font-size="18" letter-spacing="0.6">2.00</text>
<text x="1089" y="373.8" text-anchor="middle" font-family="'Liberation Serif', serif" font-size="18" letter-spacing="0.6">2.02</text>
<text x="1217.5" y="373.8" text-anchor="middle" font-family="'Liberation Serif', serif" font-size="18" letter-spacing="0.6">2.04</text>
<text x="1006.5" y="398.5" font-family="'Liberation Serif', serif" font-size="22">Ru-O / Å</text>
<text transform="translate(852,347) rotate(-90)" font-family="'Liberation Serif', serif" font-size="22">Potential / V @10 mA·cm<tspan font-size="14" dy="-9">-2</tspan></text>
<defs><linearGradient id="ag" gradientUnits="userSpaceOnUse" x1="1054.21" y1="213.44" x2="1064.49" y2="222.96"><stop offset="0" stop-color="#8e8e8e"/><stop offset="1" stop-color="#b6b6b6"/></linearGradient></defs>
<polygon points="945,341.7 955,310.3 961.7,316.7 1169.8,91 1177.6,98.4 969.8,323.8 976,329.5" fill="url(#ag)"/>
<defs><radialGradient id="g0" cx="0.35" cy="0.35" r="0.75"><stop offset="0" stop-color="#fff" stop-opacity="0.9"/><stop offset="0.22" stop-color="#1b9e77" stop-opacity="0.6"/><stop offset="0.4" stop-color="#1b9e77"/><stop offset="1" stop-color="#1b9e77"/></radialGradient><radialGradient id="g1" cx="0.35" cy="0.35" r="0.75"><stop offset="0" stop-color="#fff" stop-opacity="0.9"/><stop offset="0.22" stop-color="#d95f02" stop-opacity="0.6"/><stop offset="0.4" stop-color="#d95f02"/><stop offset="1" stop-color="#d95f02"/></radialGradient><radialGradient id="g2" cx="0.35" cy="0.35" r="0.75"><stop offset="0" stop-color="#fff" stop-opacity="0.9"/><stop offset="0.22" stop-color="#a6761d" stop-opacity="0.6"/><stop offset="0.4" stop-color="#a6761d"/><stop offset="1" stop-color="#a6761d"/></radialGradient><radialGradient id="g3" cx="0.35" cy="0.35" r="0.75"><stop offset="0" stop-color="#fff" stop-opacity="0.9"/><stop offset="0.22" stop-color="#7570b3" stop-opacity="0.6"/><stop offset="0.4" stop-color="#7570b3"/><stop offset="1" stop-color="#7570b3"/></radialGradient><radialGradient id="g4" cx="0.35" cy="0.35" r="0.75"><stop offset="0" stop-color="#fff" stop-opacity="0.9"/><stop offset="0.22" stop-color="#e6ab02" stop-opacity="0.6"/><stop offset="0.4" stop-color="#e6ab02"/><stop offset="1" stop-color="#e6ab02"/></radialGradient><radialGradient id="g5" cx="0.35" cy="0.35" r="0.75"><stop offset="0" stop-color="#fff" stop-opacity="0.9"/><stop offset="0.22" stop-color="#e7298a" stop-opacity="0.6"/><stop offset="0.4" stop-color="#e7298a"/><stop offset="1" stop-color="#e7298a"/></radialGradient><radialGradient id="g6" cx="0.35" cy="0.35" r="0.75"><stop offset="0" stop-color="#fff" stop-opacity="0.9"/><stop offset="0.22" stop-color="#66a61e" stop-opacity="0.6"/><stop offset="0.4" stop-color="#66a61e"/><stop offset="1" stop-color="#66a61e"/></radialGradient></defs>
<circle cx="915" cy="336" r="7" fill="url(#g0)"/>
<text x="900" y="322" font-family="'Liberation Serif', serif" font-weight="bold" font-size="18" fill="#1b9e77">Dy</text>
<circle cx="953.6" cy="289.4" r="7" fill="url(#g1)"/>
<text x="937.2" y="280.2" font-family="'Liberation Serif', serif" font-weight="bold" font-size="18" fill="#d95f02">Er</text>
<circle cx="1030.9" cy="297" r="7" fill="url(#g2)"/>
<text x="1027" y="323" font-family="'Liberation Serif', serif" font-weight="bold" font-size="18" fill="#a6761d">Y</text>
<circle cx="1069.6" cy="281.9" r="7" fill="url(#g3)"/>
<text x="1056.8" y="304.6" font-family="'Liberation Serif', serif" font-weight="bold" font-size="18" fill="#7570b3">Ho</text>
<circle cx="1082.1" cy="274.1" r="7" fill="url(#g4)"/>
<text x="1081.5" y="297.7" font-family="'Liberation Serif', serif" font-weight="bold" font-size="18" fill="#e6ab02">Tb</text>
<circle cx="1121" cy="182" r="7" fill="url(#g5)"/>
<text x="1117.5" y="205.8" font-family="'Liberation Serif', serif" font-weight="bold" font-size="18" fill="#e7298a">Nd</text>
<circle cx="1197.9" cy="105.8" r="7" fill="url(#g6)"/>
<text x="1193" y="128.9" font-family="'Liberation Serif', serif" font-weight="bold" font-size="18" fill="#66a61e">Pr</text>
</svg>
</body></html>
